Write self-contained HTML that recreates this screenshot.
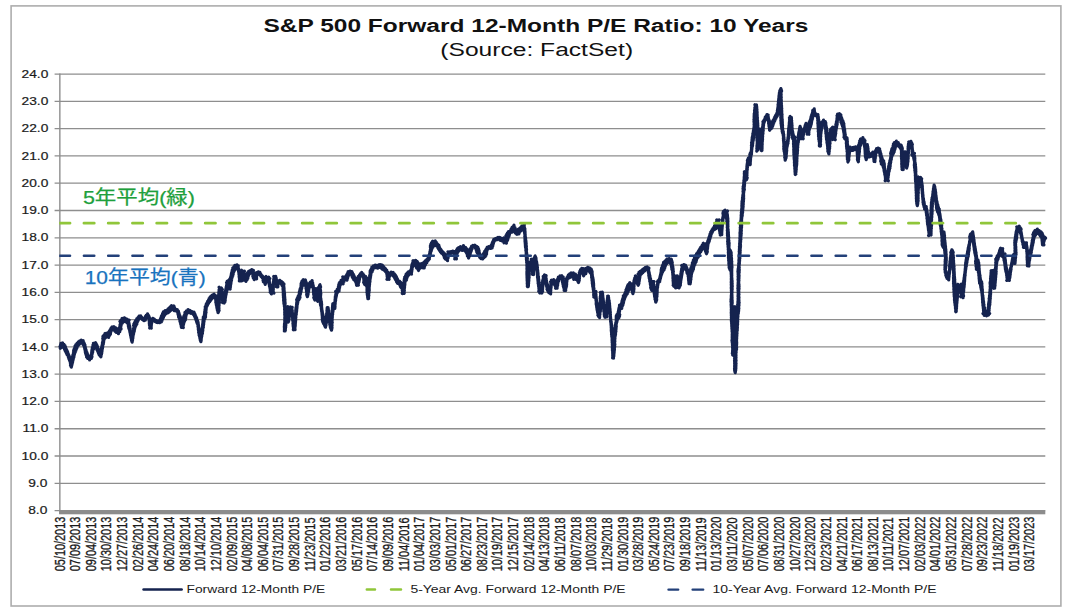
<!DOCTYPE html>
<html lang="en"><head><meta charset="utf-8"><title>S&amp;P 500 Forward 12-Month P/E Ratio: 10 Years</title>
<style>html,body{margin:0;padding:0;background:#fff;}body{width:1067px;height:611px;overflow:hidden;font-family:"Liberation Sans",sans-serif;}svg{display:block;}text{font-family:"Liberation Sans",sans-serif;}</style>
</head><body>
<svg width="1067" height="611" viewBox="0 0 1067 611">
<rect x="0" y="0" width="1067" height="611" fill="#ffffff"/>
<rect x="11.1" y="5.9" width="1049.8" height="600.1" fill="none" stroke="#adadad" stroke-width="1.6"/>
<g stroke="#8e8e8e" stroke-width="1.3" fill="none">
<path d="M54.6 510.58H1045.3"/>
<path d="M54.6 483.30H1045.3"/>
<path d="M54.6 456.02H1045.3"/>
<path d="M54.6 428.74H1045.3"/>
<path d="M54.6 401.46H1045.3"/>
<path d="M54.6 374.18H1045.3"/>
<path d="M54.6 346.90H1045.3"/>
<path d="M54.6 319.62H1045.3"/>
<path d="M54.6 292.34H1045.3"/>
<path d="M54.6 265.06H1045.3"/>
<path d="M54.6 237.78H1045.3"/>
<path d="M54.6 210.50H1045.3"/>
<path d="M54.6 183.22H1045.3"/>
<path d="M54.6 155.94H1045.3"/>
<path d="M54.6 128.66H1045.3"/>
<path d="M54.6 101.38H1045.3"/>
<path d="M54.6 74.10H1045.3"/>
<path d="M59.85 73.60V514" stroke-width="1.4"/>
</g>
<rect x="59.2" y="510.5" width="986.1" height="3.8" fill="#8c8c8c"/>
<g fill="#1a1a1a" stroke="#1a1a1a" stroke-width="0.2" font-size="11.4" text-anchor="end">
<text transform="translate(47.3 514.23) scale(1.205 1)">8.0</text>
<text transform="translate(47.3 486.95) scale(1.205 1)">9.0</text>
<text transform="translate(48.3 459.67) scale(1.205 1)">10.0</text>
<text transform="translate(48.3 432.39) scale(1.205 1)">11.0</text>
<text transform="translate(48.3 405.11) scale(1.205 1)">12.0</text>
<text transform="translate(48.3 377.83) scale(1.205 1)">13.0</text>
<text transform="translate(48.3 350.55) scale(1.205 1)">14.0</text>
<text transform="translate(48.3 323.27) scale(1.205 1)">15.0</text>
<text transform="translate(48.3 295.99) scale(1.205 1)">16.0</text>
<text transform="translate(48.3 268.71) scale(1.205 1)">17.0</text>
<text transform="translate(48.3 241.43) scale(1.205 1)">18.0</text>
<text transform="translate(48.3 214.15) scale(1.205 1)">19.0</text>
<text transform="translate(48.3 186.87) scale(1.205 1)">20.0</text>
<text transform="translate(48.3 159.59) scale(1.205 1)">21.0</text>
<text transform="translate(48.3 132.31) scale(1.205 1)">22.0</text>
<text transform="translate(48.3 105.03) scale(1.205 1)">23.0</text>
<text transform="translate(48.3 77.75) scale(1.205 1)">24.0</text>
</g>
<g fill="#1a1a1a" stroke="#1a1a1a" stroke-width="0.25" font-size="10.88">
<text transform="translate(59.60 571.2) rotate(-90) scale(1 1.38)" y="3.55">05/10/2013</text>
<text transform="translate(75.24 571.2) rotate(-90) scale(1 1.38)" y="3.55">07/09/2013</text>
<text transform="translate(90.88 571.2) rotate(-90) scale(1 1.38)" y="3.55">09/04/2013</text>
<text transform="translate(106.52 571.2) rotate(-90) scale(1 1.38)" y="3.55">10/30/2013</text>
<text transform="translate(122.16 571.2) rotate(-90) scale(1 1.38)" y="3.55">12/27/2013</text>
<text transform="translate(137.80 571.2) rotate(-90) scale(1 1.38)" y="3.55">02/26/2014</text>
<text transform="translate(153.44 571.2) rotate(-90) scale(1 1.38)" y="3.55">04/24/2014</text>
<text transform="translate(169.08 571.2) rotate(-90) scale(1 1.38)" y="3.55">06/20/2014</text>
<text transform="translate(184.72 571.2) rotate(-90) scale(1 1.38)" y="3.55">08/18/2014</text>
<text transform="translate(200.36 571.2) rotate(-90) scale(1 1.38)" y="3.55">10/14/2014</text>
<text transform="translate(216.00 571.2) rotate(-90) scale(1 1.38)" y="3.55">12/10/2014</text>
<text transform="translate(231.64 571.2) rotate(-90) scale(1 1.38)" y="3.55">02/09/2015</text>
<text transform="translate(247.28 571.2) rotate(-90) scale(1 1.38)" y="3.55">04/08/2015</text>
<text transform="translate(262.92 571.2) rotate(-90) scale(1 1.38)" y="3.55">06/04/2015</text>
<text transform="translate(278.56 571.2) rotate(-90) scale(1 1.38)" y="3.55">07/31/2015</text>
<text transform="translate(294.20 571.2) rotate(-90) scale(1 1.38)" y="3.55">09/28/2015</text>
<text transform="translate(309.84 571.2) rotate(-90) scale(1 1.38)" y="3.55">11/23/2015</text>
<text transform="translate(325.48 571.2) rotate(-90) scale(1 1.38)" y="3.55">01/22/2016</text>
<text transform="translate(341.12 571.2) rotate(-90) scale(1 1.38)" y="3.55">03/21/2016</text>
<text transform="translate(356.76 571.2) rotate(-90) scale(1 1.38)" y="3.55">05/17/2016</text>
<text transform="translate(372.40 571.2) rotate(-90) scale(1 1.38)" y="3.55">07/14/2016</text>
<text transform="translate(388.04 571.2) rotate(-90) scale(1 1.38)" y="3.55">09/09/2016</text>
<text transform="translate(403.68 571.2) rotate(-90) scale(1 1.38)" y="3.55">11/04/2016</text>
<text transform="translate(419.32 571.2) rotate(-90) scale(1 1.38)" y="3.55">01/04/2017</text>
<text transform="translate(434.96 571.2) rotate(-90) scale(1 1.38)" y="3.55">03/03/2017</text>
<text transform="translate(450.60 571.2) rotate(-90) scale(1 1.38)" y="3.55">05/01/2017</text>
<text transform="translate(466.24 571.2) rotate(-90) scale(1 1.38)" y="3.55">06/27/2017</text>
<text transform="translate(481.88 571.2) rotate(-90) scale(1 1.38)" y="3.55">08/23/2017</text>
<text transform="translate(497.52 571.2) rotate(-90) scale(1 1.38)" y="3.55">10/19/2017</text>
<text transform="translate(513.16 571.2) rotate(-90) scale(1 1.38)" y="3.55">12/15/2017</text>
<text transform="translate(528.80 571.2) rotate(-90) scale(1 1.38)" y="3.55">02/14/2018</text>
<text transform="translate(544.44 571.2) rotate(-90) scale(1 1.38)" y="3.55">04/13/2018</text>
<text transform="translate(560.08 571.2) rotate(-90) scale(1 1.38)" y="3.55">06/11/2018</text>
<text transform="translate(575.72 571.2) rotate(-90) scale(1 1.38)" y="3.55">08/07/2018</text>
<text transform="translate(591.36 571.2) rotate(-90) scale(1 1.38)" y="3.55">10/03/2018</text>
<text transform="translate(607.00 571.2) rotate(-90) scale(1 1.38)" y="3.55">11/29/2018</text>
<text transform="translate(622.64 571.2) rotate(-90) scale(1 1.38)" y="3.55">01/30/2019</text>
<text transform="translate(638.28 571.2) rotate(-90) scale(1 1.38)" y="3.55">03/28/2019</text>
<text transform="translate(653.92 571.2) rotate(-90) scale(1 1.38)" y="3.55">05/24/2019</text>
<text transform="translate(669.56 571.2) rotate(-90) scale(1 1.38)" y="3.55">07/23/2019</text>
<text transform="translate(685.20 571.2) rotate(-90) scale(1 1.38)" y="3.55">09/18/2019</text>
<text transform="translate(700.84 571.2) rotate(-90) scale(1 1.38)" y="3.55">11/13/2019</text>
<text transform="translate(716.48 571.2) rotate(-90) scale(1 1.38)" y="3.55">01/13/2020</text>
<text transform="translate(732.12 571.2) rotate(-90) scale(1 1.38)" y="3.55">03/11/2020</text>
<text transform="translate(747.76 571.2) rotate(-90) scale(1 1.38)" y="3.55">05/07/2020</text>
<text transform="translate(763.40 571.2) rotate(-90) scale(1 1.38)" y="3.55">07/06/2020</text>
<text transform="translate(779.04 571.2) rotate(-90) scale(1 1.38)" y="3.55">08/31/2020</text>
<text transform="translate(794.68 571.2) rotate(-90) scale(1 1.38)" y="3.55">10/27/2020</text>
<text transform="translate(810.32 571.2) rotate(-90) scale(1 1.38)" y="3.55">12/23/2020</text>
<text transform="translate(825.96 571.2) rotate(-90) scale(1 1.38)" y="3.55">02/23/2021</text>
<text transform="translate(841.60 571.2) rotate(-90) scale(1 1.38)" y="3.55">04/21/2021</text>
<text transform="translate(857.24 571.2) rotate(-90) scale(1 1.38)" y="3.55">06/17/2021</text>
<text transform="translate(872.88 571.2) rotate(-90) scale(1 1.38)" y="3.55">08/13/2021</text>
<text transform="translate(888.52 571.2) rotate(-90) scale(1 1.38)" y="3.55">10/11/2021</text>
<text transform="translate(904.16 571.2) rotate(-90) scale(1 1.38)" y="3.55">12/07/2021</text>
<text transform="translate(919.80 571.2) rotate(-90) scale(1 1.38)" y="3.55">02/03/2022</text>
<text transform="translate(935.44 571.2) rotate(-90) scale(1 1.38)" y="3.55">04/01/2022</text>
<text transform="translate(951.08 571.2) rotate(-90) scale(1 1.38)" y="3.55">05/31/2022</text>
<text transform="translate(966.72 571.2) rotate(-90) scale(1 1.38)" y="3.55">07/28/2022</text>
<text transform="translate(982.36 571.2) rotate(-90) scale(1 1.38)" y="3.55">09/23/2022</text>
<text transform="translate(998.00 571.2) rotate(-90) scale(1 1.38)" y="3.55">11/18/2022</text>
<text transform="translate(1013.64 571.2) rotate(-90) scale(1 1.38)" y="3.55">01/19/2023</text>
<text transform="translate(1029.28 571.2) rotate(-90) scale(1 1.38)" y="3.55">03/17/2023</text>
</g>
<text id="title" transform="translate(535.9 32.1) scale(1.332 1)" text-anchor="middle" font-size="18.4" font-weight="bold" fill="#111111">S&amp;P 500 Forward 12-Month P/E Ratio: 10 Years</text>
<text id="subtitle" transform="translate(536.7 56.1) scale(1.337 1)" text-anchor="middle" font-size="18.4" fill="#111111">(Source: FactSet)</text>
<path id="pe" d="M60.3 348.2 L61.1 347.6 L60.1 346.5 L61.4 346.1 L60.6 345.0 L61.8 344.6 L61.0 343.3 L61.9 343.5 L62.6 343.0 L62.5 344.4 L63.9 344.3 L63.4 345.6 L65.0 345.5 L63.8 346.8 L65.5 347.0 L64.2 348.2 L65.9 348.3 L64.6 349.6 L66.6 349.6 L65.3 350.9 L67.2 350.8 L65.9 352.2 L67.7 352.1 L66.5 353.5 L68.2 353.5 L67.3 354.8 L68.7 354.9 L68.1 355.9 L69.3 356.3 L68.5 357.4 L69.9 357.8 L69.0 358.9 L70.3 359.4 L69.6 360.4 L70.6 360.9 L70.1 361.8 L70.8 362.5 L70.4 363.3 L71.1 364.0 L70.6 364.8 L71.7 365.3 L71.3 367.1 L70.5 365.2 L71.9 364.8 L71.3 363.9 L72.2 363.3 L71.6 362.4 L72.6 361.9 L71.9 360.9 L72.9 360.3 L72.2 359.4 L73.3 358.9 L72.4 357.9 L73.8 357.4 L72.6 356.3 L74.1 355.9 L73.0 354.8 L74.4 354.4 L73.4 353.3 L74.9 352.9 L73.6 351.8 L75.5 351.5 L73.7 350.2 L76.0 350.2 L74.3 348.8 L76.5 348.9 L74.9 347.5 L77.0 347.6 L75.1 346.1 L77.5 346.3 L75.9 344.6 L78.2 345.3 L77.1 343.3 L79.3 344.4 L78.3 342.0 L80.4 343.4 L79.6 341.1 L81.4 342.3 L81.2 340.2 L81.9 341.6 L83.1 340.6 L81.8 342.4 L83.8 342.3 L82.7 343.6 L84.4 343.6 L83.3 344.9 L85.0 345.0 L84.0 346.1 L85.1 346.6 L84.5 347.6 L85.5 348.1 L84.9 349.1 L85.9 349.6 L85.2 350.6 L86.3 351.1 L85.4 352.2 L87.0 352.5 L85.7 353.7 L87.4 354.0 L86.3 355.2 L88.1 355.3 L86.6 357.0 L88.7 356.5 L87.7 358.4 L89.6 357.2 L89.6 359.9 L89.7 357.2 L91.4 358.3 L90.2 356.8 L92.0 356.8 L91.0 355.7 L91.9 355.0 L91.4 354.2 L92.2 353.6 L91.7 352.7 L92.6 352.1 L91.8 351.1 L92.9 350.6 L92.1 349.6 L93.5 349.1 L92.3 348.0 L94.1 347.7 L92.8 346.5 L94.2 346.1 L93.0 345.0 L94.7 344.6 L93.5 343.3 L94.7 343.9 L95.6 342.7 L94.1 344.7 L96.4 344.3 L94.9 345.9 L97.1 345.6 L95.5 347.2 L97.6 346.9 L96.3 348.4 L98.0 348.3 L96.9 349.7 L98.8 349.5 L97.6 350.9 L99.4 350.9 L98.2 352.2 L100.1 352.1 L98.6 353.5 L100.6 353.5 L99.2 354.8 L101.2 354.4 L100.9 356.9 L99.4 354.4 L101.5 354.4 L100.3 353.4 L101.8 352.8 L100.8 351.9 L101.9 351.3 L101.1 350.4 L102.1 349.8 L101.4 348.9 L102.4 348.3 L101.6 347.4 L102.7 346.8 L102.0 345.9 L102.8 345.3 L102.3 344.4 L103.3 343.8 L102.5 342.9 L103.5 342.3 L102.8 341.4 L103.7 340.8 L103.0 339.8 L104.1 339.3 L102.8 338.2 L105.0 338.1 L103.0 336.4 L105.9 337.2 L104.0 335.2 L106.5 335.8 L105.0 333.5 L106.3 335.6 L107.5 332.9 L106.0 336.4 L108.6 334.2 L108.6 337.5 L107.7 334.6 L109.9 335.2 L108.3 333.9 L110.5 333.9 L108.8 332.5 L110.7 332.5 L109.4 331.2 L111.0 331.1 L110.2 329.9 L111.7 329.9 L111.0 328.5 L112.7 328.8 L112.0 326.9 L113.0 328.1 L114.0 326.7 L113.3 329.0 L115.7 327.8 L114.3 330.3 L116.9 328.7 L115.2 331.4 L117.8 329.8 L116.3 332.3 L118.3 330.8 L118.4 333.6 L117.9 331.1 L119.8 331.6 L118.3 330.1 L120.1 330.3 L118.8 328.9 L121.1 329.0 L119.5 327.7 L120.7 327.2 L119.9 326.3 L121.1 325.7 L120.1 324.8 L121.3 324.2 L120.5 323.3 L122.4 323.0 L120.0 321.3 L122.9 322.0 L121.1 319.9 L123.7 320.9 L122.2 318.4 L123.8 320.2 L124.4 317.8 L123.9 320.7 L125.8 318.8 L125.2 321.6 L127.1 319.2 L126.5 322.1 L129.1 320.1 L126.9 322.5 L128.9 322.5 L127.8 323.5 L129.1 324.0 L128.3 325.0 L129.5 325.5 L128.5 326.5 L129.8 327.0 L128.8 328.0 L130.1 328.5 L129.3 329.5 L130.2 330.1 L129.7 331.0 L130.4 331.6 L130.0 332.5 L130.7 333.1 L130.3 334.0 L131.0 334.6 L130.6 335.5 L131.3 336.1 L130.9 337.0 L131.5 337.6 L131.2 338.5 L131.8 339.1 L131.5 340.0 L132.4 340.5 L132.1 342.1 L131.6 340.5 L132.5 340.0 L132.2 339.2 L132.8 338.5 L132.3 337.6 L133.0 337.0 L132.5 336.1 L133.2 335.5 L132.7 334.6 L133.5 334.0 L132.9 333.1 L133.8 332.5 L133.1 331.6 L134.2 331.0 L133.4 330.1 L134.5 329.5 L133.6 328.5 L134.8 328.0 L134.0 327.1 L135.5 326.6 L133.6 325.3 L136.0 325.3 L134.0 323.8 L136.8 324.2 L134.7 322.5 L137.1 322.7 L135.3 321.2 L137.7 321.5 L136.2 319.9 L138.3 320.2 L137.0 318.5 L139.0 318.9 L138.2 317.4 L139.8 317.6 L139.2 316.0 L140.1 316.4 L140.8 316.0 L140.6 317.3 L141.8 317.4 L141.4 318.6 L142.7 318.5 L142.5 319.7 L143.7 319.2 L143.8 320.6 L144.4 319.9 L145.3 320.1 L144.4 318.9 L145.8 318.7 L145.0 317.6 L146.4 317.5 L145.6 316.4 L147.0 316.4 L146.4 315.2 L147.5 315.3 L147.6 313.8 L147.5 315.3 L148.5 315.4 L147.9 316.4 L149.1 316.6 L148.2 317.7 L149.5 318.0 L148.9 318.9 L149.6 319.6 L149.1 320.4 L149.8 321.1 L149.3 321.9 L150.2 322.6 L149.4 323.4 L150.4 324.1 L149.5 325.0 L150.6 325.6 L149.9 326.4 L150.7 327.1 L149.7 328.1 L150.6 327.8 L151.3 328.1 L150.5 327.1 L151.2 326.4 L150.8 325.6 L151.4 324.9 L151.0 324.1 L151.6 323.4 L151.2 322.6 L151.9 321.9 L151.4 321.1 L152.2 320.4 L151.0 319.2 L152.5 319.6 L152.8 318.3 L152.7 320.3 L154.3 319.2 L154.0 321.0 L155.3 320.1 L155.2 321.6 L156.5 320.7 L156.5 322.3 L157.5 321.2 L158.0 322.6 L158.9 321.0 L159.8 322.6 L159.9 321.2 L161.4 321.9 L160.2 320.2 L162.1 320.3 L160.5 318.8 L162.6 318.9 L161.0 317.5 L163.4 317.7 L161.5 316.1 L163.8 316.4 L162.2 314.8 L164.7 315.2 L162.7 313.4 L165.5 314.0 L163.5 311.8 L165.6 313.3 L165.2 310.6 L166.6 313.4 L166.7 311.0 L168.3 312.6 L167.2 310.2 L169.5 311.4 L168.1 309.0 L170.6 310.5 L169.2 308.2 L171.6 309.4 L170.2 307.0 L172.7 308.2 L171.5 305.6 L172.7 307.2 L173.8 305.9 L172.4 307.8 L174.5 307.5 L173.3 309.0 L175.0 308.7 L174.1 310.6 L175.7 309.4 L176.0 311.0 L177.3 309.7 L177.2 311.0 L178.4 311.1 L177.7 312.2 L178.8 312.7 L178.0 313.8 L179.3 314.2 L178.4 315.3 L179.9 315.7 L178.6 316.9 L180.4 317.2 L179.2 318.3 L180.7 318.7 L179.8 319.7 L181.1 320.2 L180.0 321.3 L181.3 321.8 L180.4 322.8 L181.6 323.3 L180.8 324.2 L181.9 324.8 L181.2 325.8 L182.2 326.3 L181.5 327.4 L182.2 327.1 L183.3 327.6 L182.0 326.3 L183.2 325.7 L182.4 324.8 L183.5 324.2 L182.5 323.2 L183.9 322.8 L182.7 321.7 L184.5 321.3 L183.0 320.1 L185.4 320.0 L183.2 318.6 L185.7 318.4 L183.6 317.1 L185.8 316.8 L184.1 315.6 L186.2 315.3 L184.8 314.2 L186.6 314.0 L185.0 312.3 L187.2 312.8 L186.4 311.0 L188.1 312.0 L188.0 309.5 L188.6 311.8 L189.9 310.4 L189.4 312.7 L190.9 311.1 L190.9 313.3 L192.2 311.7 L192.4 313.4 L194.0 312.2 L193.1 314.1 L194.8 313.8 L193.8 315.1 L195.3 315.1 L194.6 316.3 L195.9 316.5 L195.2 317.6 L196.6 317.9 L195.7 319.0 L197.0 319.5 L196.2 320.5 L197.5 321.0 L196.7 322.0 L198.1 322.4 L197.2 323.5 L198.3 324.1 L197.9 324.9 L198.5 325.6 L198.0 326.4 L198.7 327.1 L198.2 327.9 L199.0 328.6 L198.4 329.5 L199.3 330.1 L198.6 331.0 L199.4 331.6 L198.7 332.5 L199.7 333.1 L199.0 334.0 L199.9 334.6 L199.2 335.5 L200.1 336.0 L199.6 336.8 L200.3 337.4 L199.9 338.2 L200.5 338.8 L200.2 339.6 L201.2 340.0 L200.9 341.6 L200.3 340.1 L201.2 339.5 L200.8 338.6 L201.4 337.9 L201.1 337.1 L201.7 336.4 L201.3 335.5 L202.0 334.8 L201.5 333.9 L202.4 333.3 L201.7 332.4 L202.6 331.7 L201.9 330.9 L202.8 330.2 L202.1 329.4 L202.9 328.7 L202.3 327.8 L203.3 327.2 L202.5 326.3 L203.4 325.7 L202.7 324.8 L203.6 324.2 L202.8 323.3 L203.8 322.7 L203.0 321.8 L204.0 321.2 L203.1 320.3 L204.2 319.7 L203.3 318.7 L205.0 318.4 L203.3 317.1 L205.6 317.0 L204.2 315.8 L205.5 315.3 L204.5 314.4 L205.7 313.8 L204.6 312.9 L206.0 312.3 L204.8 311.4 L206.0 310.7 L205.0 309.9 L206.1 309.2 L205.3 308.3 L206.3 307.8 L205.3 306.8 L206.7 306.5 L206.0 305.4 L207.4 305.3 L206.4 304.1 L208.2 304.0 L207.1 302.7 L208.7 302.8 L207.7 301.3 L209.7 301.7 L208.6 300.0 L210.6 300.4 L209.2 298.6 L211.5 299.2 L210.2 297.2 L212.5 298.2 L211.1 296.0 L213.5 297.3 L212.3 295.1 L214.0 296.3 L214.0 294.1 L214.3 295.9 L215.5 295.6 L215.1 296.6 L216.0 297.0 L215.5 297.9 L216.2 298.6 L215.7 299.4 L216.4 300.1 L215.8 301.0 L216.8 301.6 L215.9 302.5 L217.0 303.1 L216.2 304.0 L217.1 304.6 L216.5 305.5 L217.3 306.1 L216.8 307.0 L217.7 307.6 L217.1 308.5 L218.0 309.1 L217.4 310.0 L219.1 310.3 L218.1 312.6 L217.7 310.6 L218.7 310.0 L217.7 309.1 L218.9 308.5 L217.7 307.6 L218.9 307.0 L217.9 306.1 L219.0 305.4 L218.0 304.6 L219.1 303.9 L218.0 303.1 L219.4 302.5 L218.0 301.6 L219.5 300.9 L218.3 300.1 L219.5 299.4 L218.2 298.6 L219.7 297.9 L218.5 297.1 L219.8 296.4 L218.6 295.6 L219.9 294.9 L218.7 294.1 L219.9 293.4 L218.9 292.6 L220.2 291.9 L219.0 291.1 L220.2 290.4 L219.2 289.6 L220.7 289.2 L219.1 287.2 L220.4 289.4 L221.4 288.0 L221.0 289.3 L222.4 289.3 L221.5 290.4 L222.1 291.1 L221.7 291.9 L222.3 292.6 L222.0 293.4 L222.5 294.1 L222.3 294.9 L222.8 295.6 L222.3 296.4 L223.1 297.1 L222.3 297.9 L223.5 298.6 L222.4 299.5 L223.6 300.1 L222.7 300.9 L223.7 301.6 L222.5 302.6 L223.7 302.4 L224.2 303.0 L223.0 301.6 L225.0 301.7 L223.6 300.5 L225.2 300.3 L224.3 299.3 L225.3 298.7 L224.4 297.8 L225.5 297.2 L224.8 296.3 L225.8 295.7 L224.9 294.8 L226.1 294.2 L225.1 293.3 L226.4 292.7 L225.3 291.8 L226.7 291.2 L225.6 290.3 L227.0 289.7 L226.0 288.8 L227.0 288.2 L226.2 287.3 L227.2 286.7 L226.6 285.8 L227.4 285.1 L226.8 284.3 L227.7 283.7 L226.6 282.6 L228.4 282.4 L227.3 281.2 L228.8 281.8 L229.3 279.7 L227.8 281.7 L229.3 282.0 L228.5 282.9 L229.5 283.6 L228.7 284.4 L229.6 285.1 L228.8 285.9 L229.6 286.6 L229.0 287.4 L229.8 288.1 L229.0 288.9 L229.5 288.6 L230.1 289.0 L229.2 288.0 L230.3 287.4 L229.4 286.5 L230.5 285.9 L229.4 285.0 L230.7 284.4 L229.7 283.5 L231.0 282.9 L229.8 282.0 L231.2 281.4 L230.1 280.5 L231.5 280.0 L230.0 278.8 L231.8 278.5 L230.6 277.4 L232.2 277.0 L231.1 275.9 L232.8 275.5 L231.3 274.3 L233.2 274.1 L231.7 272.8 L233.5 272.5 L232.0 271.3 L234.2 271.1 L232.4 269.7 L234.8 269.9 L232.9 268.0 L235.5 268.8 L233.9 266.7 L236.4 267.8 L234.9 265.3 L237.1 267.1 L236.9 264.8 L236.9 266.2 L238.3 265.9 L237.3 267.1 L238.2 267.7 L237.7 268.6 L238.7 269.2 L238.2 270.1 L238.9 270.7 L238.6 271.6 L239.2 272.3 L238.9 273.1 L239.5 273.8 L239.0 274.6 L239.8 275.3 L239.2 276.1 L240.2 276.7 L239.3 277.6 L240.3 278.3 L239.5 279.1 L240.6 279.8 L239.4 280.9 L240.4 280.5 L241.4 280.9 L240.3 279.8 L241.0 279.1 L240.6 278.3 L241.4 277.6 L240.8 276.7 L241.7 276.1 L241.1 275.2 L242.0 274.6 L241.0 273.6 L243.3 273.5 L240.7 271.9 L243.7 272.5 L241.6 270.3 L242.3 272.0 L244.4 271.1 L242.6 272.4 L243.9 273.0 L242.7 273.9 L244.2 274.4 L243.1 275.4 L244.3 276.0 L243.2 276.9 L244.5 277.5 L243.4 278.4 L244.8 279.0 L242.7 280.5 L245.0 279.1 L245.9 281.4 L244.0 278.7 L247.1 279.8 L244.7 277.6 L247.8 278.4 L245.3 276.5 L248.0 276.9 L245.8 275.2 L248.6 275.6 L246.6 273.9 L248.8 274.4 L247.7 272.6 L249.8 273.5 L248.8 271.3 L250.7 272.1 L250.3 270.6 L251.9 271.7 L251.7 269.6 L252.0 270.9 L253.4 270.3 L252.3 271.7 L253.4 272.2 L252.6 273.2 L253.7 273.7 L252.9 274.7 L254.1 275.2 L252.9 276.3 L255.0 276.4 L253.3 277.9 L255.5 277.4 L254.3 279.5 L255.0 277.8 L256.6 278.9 L255.2 277.4 L256.6 277.0 L255.6 275.9 L256.9 275.4 L256.0 274.4 L257.5 274.2 L256.5 272.6 L258.1 273.4 L258.4 271.8 L259.0 272.9 L259.9 272.5 L259.4 273.9 L260.8 273.9 L260.1 275.2 L261.5 275.2 L261.0 276.4 L262.5 276.2 L262.2 277.6 L263.6 277.4 L263.1 278.7 L264.8 278.7 L263.1 280.2 L265.4 280.3 L263.4 281.8 L266.1 281.4 L265.2 284.4 L264.3 281.4 L267.0 281.7 L264.7 280.3 L267.3 280.2 L264.9 278.7 L267.7 279.0 L265.9 276.5 L267.2 279.3 L268.6 277.1 L267.2 279.0 L269.9 278.5 L267.9 280.0 L269.3 280.4 L268.5 281.4 L269.5 282.0 L268.9 282.9 L269.7 283.5 L269.2 284.4 L270.1 285.0 L269.5 285.9 L270.5 286.5 L269.9 287.4 L270.9 288.0 L270.1 289.0 L271.2 289.5 L270.3 290.5 L272.1 290.8 L270.2 292.3 L272.7 291.7 L271.4 293.9 L271.9 292.4 L273.9 293.1 L272.1 291.8 L273.2 291.2 L272.2 290.3 L273.3 289.7 L272.5 288.8 L273.3 288.1 L272.8 287.3 L273.4 286.6 L273.0 285.8 L273.5 285.1 L273.1 284.3 L273.6 283.6 L273.3 282.8 L273.9 282.1 L273.5 281.3 L274.1 280.6 L273.7 279.8 L274.5 279.1 L273.9 278.3 L274.8 277.6 L273.8 276.5 L274.7 277.0 L275.7 276.4 L274.5 277.8 L276.2 278.1 L274.9 279.3 L276.4 279.7 L275.6 280.7 L276.5 281.3 L276.0 282.1 L276.7 282.8 L276.3 283.6 L277.0 284.3 L276.6 285.1 L277.2 285.8 L276.5 286.8 L277.2 286.7 L277.9 286.8 L277.3 285.8 L277.9 285.1 L277.7 284.3 L278.3 283.6 L277.9 282.8 L278.7 282.1 L277.9 280.9 L279.1 281.5 L279.6 280.3 L279.2 282.3 L280.9 281.2 L280.1 283.3 L281.8 281.8 L281.1 283.6 L282.9 282.7 L281.7 284.5 L284.0 284.0 L282.1 285.5 L283.8 285.8 L283.0 286.6 L283.9 287.3 L283.0 288.1 L284.0 288.8 L283.1 289.6 L284.1 290.3 L283.2 291.1 L284.2 291.8 L283.3 292.7 L284.5 293.3 L283.3 294.2 L284.5 294.8 L283.4 295.7 L284.6 296.3 L283.5 297.2 L284.7 297.9 L283.7 298.7 L284.9 299.4 L283.6 300.2 L284.9 300.9 L283.8 301.7 L285.0 302.4 L283.9 303.2 L285.1 303.9 L284.2 304.7 L284.9 305.4 L284.4 306.2 L284.9 306.9 L284.6 307.7 L285.0 308.5 L284.6 309.3 L285.1 310.1 L284.7 310.9 L285.2 311.6 L284.7 312.5 L285.2 313.2 L284.7 314.1 L285.3 314.8 L284.8 315.6 L285.4 316.4 L284.8 317.2 L285.5 318.0 L284.8 318.8 L285.5 319.6 L284.8 320.4 L285.6 321.2 L284.8 322.0 L285.6 322.7 L284.6 323.5 L285.7 324.3 L284.5 325.0 L285.7 325.8 L284.4 326.5 L285.6 327.3 L284.4 328.0 L285.4 328.8 L284.5 329.5 L285.3 330.3 L284.4 331.0 L284.8 331.0 L285.1 331.0 L284.8 330.2 L285.3 329.5 L284.9 328.7 L285.4 328.0 L285.0 327.2 L285.6 326.5 L285.2 325.7 L285.8 325.0 L285.4 324.2 L286.0 323.5 L285.5 322.7 L286.1 322.0 L285.6 321.2 L286.3 320.5 L285.8 319.7 L286.5 319.0 L286.0 318.2 L286.7 317.5 L286.1 316.7 L286.8 316.0 L286.3 315.2 L287.0 314.5 L286.5 313.7 L287.1 313.0 L286.8 312.2 L287.3 311.5 L287.0 310.7 L287.4 309.9 L287.1 309.2 L287.8 308.5 L287.8 306.6 L287.2 308.5 L288.1 309.2 L287.2 310.1 L288.3 310.8 L287.3 311.7 L288.4 312.4 L287.5 313.3 L288.5 314.0 L287.6 314.9 L288.5 315.6 L287.7 316.5 L288.6 317.2 L287.9 318.1 L288.8 318.8 L288.0 319.7 L288.8 320.4 L288.3 322.0 L288.3 320.4 L289.0 319.7 L288.5 318.9 L289.1 318.2 L288.7 317.4 L289.2 316.7 L288.9 315.9 L289.4 315.2 L289.0 314.4 L289.5 313.7 L289.1 312.9 L289.6 312.2 L289.3 311.4 L289.9 310.7 L289.3 309.9 L290.6 309.6 L289.8 308.6 L291.2 308.4 L290.2 307.0 L290.8 307.8 L292.2 307.3 L291.0 308.5 L291.9 309.1 L291.0 310.0 L292.2 310.6 L291.2 311.5 L292.3 312.1 L291.6 313.0 L292.5 313.6 L291.8 314.5 L292.7 315.1 L292.1 316.0 L292.7 316.7 L292.4 317.5 L292.9 318.2 L292.6 319.0 L293.1 319.7 L292.7 320.5 L293.4 321.2 L293.0 322.0 L293.6 322.7 L293.0 323.5 L294.0 324.2 L293.1 325.1 L294.3 325.7 L293.3 326.6 L294.5 327.2 L293.5 328.1 L294.7 328.7 L293.4 329.7 L294.4 328.8 L295.0 329.6 L294.1 328.7 L295.0 328.0 L294.2 327.2 L295.1 326.5 L294.3 325.7 L295.3 325.0 L294.4 324.2 L295.3 323.5 L294.5 322.7 L295.5 322.0 L294.6 321.2 L295.6 320.5 L294.8 319.7 L295.7 319.0 L294.9 318.2 L295.8 317.5 L295.1 316.7 L295.9 316.0 L295.3 315.2 L296.2 314.5 L295.4 313.6 L296.3 313.0 L295.7 312.1 L296.5 311.5 L295.8 310.6 L296.7 310.0 L295.9 309.1 L296.8 308.5 L296.1 307.6 L297.0 307.0 L296.4 306.1 L297.1 305.5 L296.6 304.6 L297.4 304.0 L296.7 303.1 L297.7 302.5 L297.0 301.6 L297.8 301.0 L296.7 299.9 L298.8 299.9 L297.2 298.5 L299.4 298.8 L297.8 297.3 L300.0 297.5 L298.3 296.1 L299.9 295.7 L299.0 294.8 L300.3 294.2 L299.3 293.2 L300.6 292.7 L299.5 291.7 L301.1 291.3 L299.9 290.2 L301.3 289.7 L300.3 288.7 L301.7 288.2 L300.9 287.2 L302.0 286.7 L301.1 285.7 L303.0 285.4 L301.1 284.0 L303.4 284.1 L301.5 282.5 L304.1 282.9 L302.1 281.1 L304.8 281.7 L303.2 279.7 L304.4 280.8 L305.3 279.9 L304.2 281.3 L305.8 281.4 L304.6 282.6 L306.3 282.7 L305.4 283.7 L306.2 284.3 L305.7 285.1 L306.4 285.8 L305.9 286.6 L306.6 287.3 L306.0 288.1 L306.8 288.8 L306.3 289.6 L307.0 290.3 L306.5 291.1 L307.2 291.8 L306.7 292.7 L307.4 293.3 L306.8 294.2 L307.9 294.7 L307.4 296.6 L306.7 294.6 L308.0 294.2 L307.3 293.3 L308.2 292.7 L307.6 291.8 L308.6 291.2 L307.8 290.3 L308.8 289.7 L308.1 288.8 L309.0 288.2 L308.0 287.2 L310.2 287.0 L308.1 285.6 L310.5 285.9 L308.6 284.2 L310.9 284.7 L309.6 283.2 L311.5 283.5 L310.4 282.0 L311.9 282.5 L312.1 280.6 L311.4 282.4 L312.6 282.8 L312.0 283.7 L312.9 284.3 L312.4 285.2 L313.2 285.8 L312.7 286.7 L313.5 287.3 L313.1 288.1 L313.7 288.8 L313.3 289.6 L314.0 290.3 L313.4 291.2 L314.3 291.8 L313.6 292.7 L314.6 293.3 L313.7 294.2 L314.9 294.8 L314.0 295.7 L315.2 296.3 L314.1 297.2 L315.9 297.6 L314.9 300.0 L313.8 297.6 L315.6 297.2 L314.7 296.3 L315.8 295.7 L315.0 294.8 L316.0 294.2 L315.2 293.3 L316.2 292.7 L315.3 291.8 L316.4 291.2 L315.5 290.3 L316.7 289.7 L315.6 288.7 L316.4 289.3 L317.0 288.7 L316.1 289.7 L317.1 290.3 L316.3 291.2 L317.2 291.8 L316.5 292.7 L317.3 293.3 L316.6 294.2 L317.5 294.8 L316.7 295.7 L317.6 296.3 L316.8 297.2 L317.8 297.8 L317.0 298.7 L317.9 299.3 L317.6 301.3 L317.2 299.3 L318.1 298.7 L317.4 297.8 L318.3 297.2 L317.6 296.3 L318.5 295.7 L317.7 294.8 L318.6 294.2 L317.9 293.3 L318.9 292.7 L318.1 291.8 L318.9 291.2 L318.3 290.3 L319.3 289.7 L318.4 288.7 L319.8 288.2 L318.8 287.2 L320.6 287.0 L319.9 284.7 L319.3 286.7 L320.3 287.4 L319.3 288.3 L320.3 289.0 L319.4 289.9 L320.5 290.6 L319.5 291.4 L320.6 292.2 L319.5 293.0 L320.8 293.8 L319.8 294.6 L320.6 295.4 L320.0 296.2 L320.6 297.0 L320.2 297.8 L320.8 298.5 L320.2 299.4 L321.0 300.1 L320.2 300.9 L321.3 301.6 L320.4 302.5 L321.5 303.1 L320.4 304.0 L321.6 304.6 L320.7 305.5 L321.6 306.1 L321.2 306.9 L321.7 307.6 L321.3 308.5 L321.9 309.1 L321.5 310.0 L322.1 310.6 L321.7 311.5 L322.4 312.1 L321.9 313.0 L322.6 313.6 L322.1 314.5 L322.9 315.1 L322.2 316.0 L323.2 316.6 L322.4 317.6 L323.9 318.0 L322.3 319.2 L324.4 319.5 L322.5 320.8 L325.2 320.9 L323.0 322.3 L325.4 322.4 L323.7 323.7 L325.3 324.1 L324.5 325.1 L325.9 325.4 L325.4 327.2 L324.6 325.4 L326.0 325.0 L325.4 324.2 L326.2 323.5 L325.5 322.7 L326.6 322.0 L325.8 321.2 L326.7 320.5 L325.9 319.6 L326.9 319.0 L326.3 318.2 L327.1 317.5 L326.4 316.7 L327.2 316.0 L326.5 315.2 L327.3 314.5 L326.7 313.7 L327.4 313.0 L326.9 312.2 L327.6 311.5 L327.0 310.6 L327.8 310.0 L327.1 309.1 L327.9 308.5 L327.3 307.6 L327.7 307.6 L328.1 307.6 L327.5 308.5 L328.3 309.1 L327.4 310.0 L328.5 310.6 L327.6 311.5 L328.7 312.1 L327.7 313.0 L329.0 313.6 L327.8 314.5 L329.2 315.1 L327.8 316.0 L329.1 316.7 L328.2 317.5 L329.4 318.1 L327.7 319.2 L330.5 318.9 L328.1 320.6 L331.1 320.2 L329.2 321.4 L330.6 321.9 L329.7 322.8 L330.8 323.4 L329.8 324.3 L331.1 324.9 L330.1 325.8 L331.4 326.4 L330.4 327.3 L332.0 327.7 L331.5 330.1 L330.6 327.8 L331.9 327.2 L330.8 326.3 L332.0 325.6 L330.9 324.7 L332.0 324.0 L331.0 323.1 L332.2 322.4 L331.2 321.5 L332.1 320.8 L331.4 319.9 L332.2 319.2 L331.7 318.4 L332.3 317.6 L331.8 316.8 L332.4 316.0 L331.9 315.2 L332.6 314.5 L332.0 313.7 L332.7 313.0 L332.1 312.1 L332.9 311.5 L332.2 310.6 L333.1 310.0 L332.4 309.1 L333.4 308.5 L332.5 307.6 L333.4 307.0 L332.6 306.1 L334.1 305.7 L332.8 303.8 L332.7 305.9 L334.5 305.6 L333.3 306.7 L335.0 306.4 L334.8 308.5 L333.8 306.7 L334.9 306.2 L334.5 305.4 L335.1 304.7 L334.6 303.9 L335.2 303.2 L334.7 302.4 L335.4 301.7 L335.0 300.9 L335.6 300.2 L335.1 299.4 L335.8 298.7 L335.3 297.8 L336.0 297.2 L335.4 296.3 L336.4 295.7 L335.8 294.8 L336.6 294.2 L336.0 293.3 L337.3 292.9 L335.7 291.4 L337.9 291.9 L336.9 290.3 L339.1 290.8 L337.4 289.2 L339.2 289.0 L338.3 288.0 L339.6 287.5 L338.5 286.4 L339.8 286.0 L338.8 284.9 L340.5 284.6 L339.2 283.4 L341.2 283.6 L339.9 282.2 L341.6 282.7 L341.1 280.3 L341.2 282.8 L342.8 281.1 L343.1 283.8 L342.0 281.5 L344.0 281.5 L342.3 280.3 L344.4 280.1 L342.8 278.9 L344.6 278.5 L342.8 276.9 L344.6 278.1 L345.4 276.6 L343.6 278.6 L346.2 278.1 L344.6 280.0 L345.7 278.7 L347.0 280.0 L345.3 278.2 L347.6 278.4 L345.5 276.8 L347.9 277.0 L346.2 275.7 L348.4 275.8 L346.9 274.5 L348.6 274.4 L347.5 273.3 L349.1 273.4 L348.2 271.7 L349.9 272.8 L350.2 271.0 L350.6 272.5 L351.9 271.6 L350.8 273.2 L352.6 273.2 L351.2 274.6 L353.3 274.4 L351.9 275.8 L354.0 275.7 L352.4 277.2 L354.4 277.0 L353.1 278.4 L355.0 278.2 L353.8 279.7 L354.9 278.9 L355.6 279.7 L354.0 278.3 L354.8 279.0 L356.1 278.3 L354.8 279.7 L356.6 279.7 L355.2 281.0 L356.9 281.1 L355.8 282.2 L357.4 282.5 L356.3 283.7 L358.1 284.0 L356.7 285.4 L357.7 284.9 L358.4 285.2 L357.7 284.2 L358.4 283.5 L357.9 282.7 L358.8 282.1 L358.1 281.2 L359.2 280.6 L358.2 279.6 L359.5 279.1 L358.4 278.1 L359.8 277.7 L358.4 276.4 L360.4 276.5 L359.6 275.2 L360.9 275.1 L360.4 273.8 L361.8 274.1 L361.7 272.4 L361.8 274.0 L363.0 273.8 L362.3 275.0 L363.9 275.0 L362.9 276.1 L363.8 276.7 L363.4 277.5 L364.1 278.2 L363.7 279.0 L364.3 279.7 L363.9 280.5 L364.6 281.2 L364.1 282.1 L365.5 282.4 L364.8 284.7 L363.7 282.3 L365.6 282.1 L364.8 281.1 L366.0 280.6 L365.1 279.6 L366.8 279.4 L365.8 276.7 L364.7 279.3 L366.5 279.7 L365.6 280.5 L366.8 281.1 L365.8 282.1 L367.0 282.7 L366.1 283.5 L367.1 284.2 L366.3 285.0 L367.2 285.7 L366.7 286.5 L367.3 287.2 L367.0 288.0 L367.4 288.7 L367.0 289.5 L367.7 290.2 L367.0 291.0 L367.9 291.7 L367.0 292.6 L368.1 293.2 L367.3 294.1 L368.2 294.7 L367.5 295.6 L368.4 296.2 L367.7 297.1 L368.4 297.8 L367.9 298.6 L368.1 298.7 L368.5 298.5 L368.1 297.7 L368.6 296.9 L368.2 296.1 L368.8 295.4 L368.2 294.6 L368.8 293.8 L368.3 293.0 L369.0 292.2 L368.3 291.4 L369.2 290.7 L368.4 289.8 L369.2 289.1 L368.5 288.3 L369.2 287.5 L368.7 286.7 L369.4 286.0 L368.7 285.1 L369.5 284.4 L368.8 283.6 L369.7 282.8 L368.7 282.0 L369.9 281.3 L368.9 280.4 L370.0 279.8 L369.2 278.9 L370.2 278.3 L369.4 277.4 L370.5 276.8 L369.7 275.9 L370.7 275.3 L370.0 274.4 L370.9 273.8 L370.2 272.8 L371.5 272.4 L370.2 271.2 L372.3 271.3 L370.8 269.9 L372.8 269.9 L371.5 268.6 L373.4 268.6 L372.0 267.0 L373.6 267.6 L373.4 265.9 L374.8 267.6 L375.3 265.1 L375.9 267.6 L377.0 265.4 L377.7 268.2 L377.8 265.6 L379.4 267.2 L378.9 264.7 L379.8 266.7 L380.8 264.7 L380.2 267.3 L382.4 265.3 L381.2 268.0 L383.5 266.5 L382.2 269.1 L384.6 267.8 L383.6 269.9 L385.7 269.0 L384.9 270.9 L386.8 270.3 L385.8 271.9 L387.4 272.0 L386.6 273.0 L387.3 273.7 L386.9 274.5 L387.6 275.1 L387.1 276.0 L388.0 276.6 L387.4 277.5 L388.2 278.1 L387.0 279.4 L388.1 278.8 L389.1 279.3 L388.0 278.1 L389.1 277.6 L388.4 276.6 L389.6 276.1 L388.7 275.1 L390.2 274.9 L388.9 273.1 L390.9 274.3 L391.0 272.0 L391.6 274.1 L393.1 272.5 L392.0 275.1 L394.4 273.9 L393.2 275.9 L395.4 275.2 L394.0 277.0 L396.3 276.5 L394.8 278.2 L396.8 277.9 L395.4 279.5 L397.5 279.2 L396.2 280.5 L398.0 280.5 L396.6 281.8 L398.4 281.5 L397.6 283.4 L398.3 281.8 L399.0 283.1 L399.6 281.3 L399.2 283.1 L401.0 282.6 L399.6 284.2 L402.0 283.6 L400.0 285.5 L402.7 284.9 L400.5 286.7 L403.3 286.2 L401.1 287.7 L403.2 287.8 L402.1 288.8 L403.2 289.4 L402.3 290.3 L403.4 290.9 L402.6 291.9 L403.8 292.4 L402.3 293.6 L403.5 292.8 L404.1 293.4 L403.1 292.5 L404.2 291.8 L403.3 291.0 L404.3 290.3 L403.5 289.5 L404.4 288.8 L403.6 288.0 L404.5 287.3 L403.8 286.5 L404.7 285.8 L403.9 284.9 L404.8 284.3 L404.0 283.4 L404.9 282.8 L404.2 281.9 L405.1 281.3 L404.2 280.3 L406.4 280.1 L404.5 278.6 L406.8 278.6 L404.8 277.0 L407.3 277.2 L405.7 275.6 L407.9 276.0 L406.2 274.2 L408.7 274.8 L407.2 273.0 L409.2 273.6 L408.3 271.9 L409.7 272.5 L410.1 270.9 L409.7 272.4 L410.6 272.9 L410.0 273.9 L410.7 273.8 L411.5 274.0 L410.6 272.9 L411.5 272.3 L410.9 271.4 L411.8 270.8 L411.1 269.9 L412.0 269.3 L411.4 268.4 L412.3 267.7 L411.7 266.8 L412.7 266.3 L411.9 265.3 L413.3 265.1 L412.3 263.9 L414.0 263.8 L412.8 262.5 L415.1 262.7 L413.1 260.6 L414.6 262.3 L415.7 260.4 L413.9 263.2 L417.3 261.6 L414.7 264.3 L418.1 263.2 L415.7 265.2 L418.6 265.0 L416.0 266.7 L419.2 266.4 L416.7 268.1 L419.5 267.6 L418.5 270.5 L417.5 267.6 L420.2 268.1 L418.4 266.6 L420.4 266.5 L418.9 264.9 L420.6 265.2 L420.3 263.8 L421.3 264.9 L422.3 263.4 L421.7 265.0 L422.9 265.3 L422.2 266.3 L423.4 266.8 L422.9 267.9 L423.5 267.9 L424.2 268.0 L423.4 266.8 L424.6 266.3 L423.8 265.3 L425.4 264.9 L424.0 263.6 L425.8 263.6 L424.3 261.9 L426.8 262.7 L425.4 260.7 L427.4 261.3 L426.7 259.7 L428.4 260.3 L427.7 258.7 L429.4 259.0 L428.4 257.7 L429.5 257.2 L428.9 256.3 L429.9 255.7 L429.3 254.8 L430.3 254.2 L429.7 253.3 L430.6 252.7 L430.0 251.8 L431.1 251.2 L430.3 250.2 L431.5 249.7 L430.7 248.7 L432.2 248.3 L430.4 247.0 L433.0 247.0 L430.5 245.4 L433.7 245.9 L431.0 244.0 L434.2 244.5 L431.6 242.7 L434.7 243.2 L432.7 241.1 L434.2 242.9 L435.2 241.0 L433.4 243.2 L436.3 242.5 L434.3 244.5 L436.2 243.5 L435.8 245.6 L437.5 244.0 L437.0 246.0 L438.8 245.2 L437.4 246.7 L439.3 246.7 L438.0 247.9 L439.7 247.9 L438.7 249.2 L440.5 249.0 L439.6 250.5 L441.3 250.2 L440.5 251.8 L442.2 251.3 L441.4 253.1 L443.3 252.4 L442.7 254.0 L444.5 253.6 L443.6 255.1 L445.0 255.0 L444.1 256.3 L445.8 256.1 L444.4 257.7 L446.5 257.2 L445.3 259.0 L447.4 257.6 L447.5 260.6 L445.9 257.9 L448.1 258.0 L447.1 257.0 L448.3 256.5 L447.5 255.5 L448.7 255.0 L447.8 254.0 L449.5 253.9 L448.0 251.9 L449.6 253.5 L449.9 251.8 L450.7 253.6 L451.1 251.7 L452.2 252.9 L452.8 251.1 L453.2 252.8 L454.4 251.8 L453.7 253.0 L455.2 253.1 L454.3 254.2 L455.0 254.8 L454.6 255.7 L455.3 256.3 L454.9 257.2 L455.6 257.8 L454.8 258.9 L455.5 258.6 L456.4 258.9 L455.5 257.9 L456.2 257.2 L455.7 256.3 L456.5 255.7 L455.9 254.8 L456.7 254.2 L456.1 253.3 L457.5 252.9 L455.6 251.4 L458.0 251.7 L456.7 250.1 L458.8 250.7 L457.4 248.6 L459.8 249.9 L458.6 247.6 L460.2 249.7 L460.4 246.6 L460.5 249.9 L461.5 247.3 L462.2 250.4 L461.7 247.2 L463.4 249.0 L463.5 245.7 L463.2 249.3 L465.6 247.4 L464.2 249.8 L466.7 248.9 L464.9 250.9 L467.2 250.3 L465.8 251.8 L467.6 251.7 L466.5 252.9 L467.8 253.2 L467.2 254.3 L468.4 254.7 L467.5 255.9 L469.1 255.9 L468.6 258.0 L468.1 256.0 L469.8 255.8 L468.3 254.7 L470.2 254.3 L468.7 253.2 L470.4 252.8 L469.0 251.6 L471.1 251.4 L469.3 250.1 L471.5 250.1 L470.1 248.8 L472.1 248.8 L471.0 247.6 L472.4 247.4 L471.7 246.2 L472.6 246.2 L473.0 245.4 L473.8 246.6 L474.9 245.2 L474.7 247.2 L476.5 246.3 L475.5 248.2 L477.9 247.5 L476.1 249.4 L478.6 249.2 L476.5 250.8 L479.1 250.7 L476.9 252.3 L479.3 252.3 L477.7 253.6 L479.6 253.6 L478.4 254.9 L480.2 254.9 L479.2 256.1 L480.5 256.2 L479.8 257.4 L481.2 257.3 L481.0 258.7 L481.7 257.9 L482.7 258.9 L482.0 256.9 L484.1 257.6 L482.7 255.7 L485.3 256.6 L482.8 254.5 L486.0 255.3 L483.6 253.4 L486.6 254.0 L484.4 252.3 L486.6 252.5 L484.9 251.1 L486.9 251.1 L485.8 249.9 L487.3 250.0 L486.4 248.7 L488.0 248.8 L487.3 247.3 L488.6 248.1 L488.9 246.6 L489.5 248.2 L490.5 246.8 L490.7 248.5 L490.8 247.5 L492.1 247.8 L491.0 246.4 L492.7 246.1 L491.4 244.8 L493.1 244.6 L492.2 243.4 L493.5 243.2 L492.7 242.1 L493.9 241.9 L493.3 240.9 L494.5 240.8 L493.8 239.4 L495.2 240.0 L495.5 238.7 L496.8 239.7 L496.7 238.2 L498.0 238.9 L498.0 237.3 L498.6 238.4 L499.6 237.4 L499.0 239.5 L501.0 238.1 L500.1 240.3 L501.5 238.6 L501.8 240.9 L502.0 238.6 L502.8 240.3 L503.8 237.9 L502.6 240.6 L504.8 239.8 L503.2 241.4 L505.6 241.0 L504.0 242.8 L505.1 241.5 L506.3 243.1 L504.2 241.1 L506.9 241.4 L504.9 239.9 L507.6 240.2 L505.3 238.7 L508.0 238.8 L505.7 237.1 L508.5 237.2 L506.0 235.6 L509.1 235.8 L506.8 234.1 L509.5 234.5 L507.6 232.9 L509.8 233.2 L508.6 231.6 L509.8 232.1 L510.1 231.1 L510.5 232.8 L510.7 231.7 L512.0 232.2 L510.8 230.8 L512.6 230.8 L511.0 229.4 L513.0 229.5 L511.8 228.2 L513.8 228.4 L512.3 227.1 L514.1 227.7 L514.0 225.2 L512.9 227.6 L515.0 227.5 L513.5 228.8 L515.4 229.0 L513.9 230.4 L516.0 230.1 L514.6 231.8 L516.9 231.0 L515.3 233.1 L517.5 232.1 L516.8 234.3 L517.6 232.7 L518.8 233.9 L517.3 232.2 L519.6 232.3 L517.7 230.9 L520.2 231.4 L518.3 229.2 L520.6 230.8 L519.6 228.5 L521.7 230.2 L520.5 228.1 L522.5 228.8 L521.0 226.9 L523.1 227.7 L522.0 225.8 L523.7 227.5 L524.3 224.8 L522.8 227.1 L524.4 227.2 L523.7 228.1 L524.8 228.7 L523.9 229.5 L524.9 230.1 L524.2 230.9 L525.0 231.6 L524.5 232.4 L525.1 233.0 L524.7 233.8 L525.2 234.6 L524.9 235.3 L525.3 236.1 L524.8 236.8 L525.5 237.6 L525.0 238.4 L525.7 239.1 L525.0 239.9 L525.8 240.6 L525.1 241.4 L526.0 242.1 L525.2 242.9 L526.1 243.6 L525.4 244.4 L526.2 245.1 L525.4 245.9 L526.3 246.6 L525.6 247.4 L526.4 248.1 L525.8 248.9 L526.5 249.6 L525.9 250.4 L526.5 251.1 L526.1 251.9 L526.6 252.6 L526.2 253.4 L526.8 254.1 L526.2 254.9 L527.1 255.6 L526.2 256.4 L527.2 257.1 L526.4 257.9 L527.3 258.6 L526.5 259.4 L527.3 260.1 L526.6 260.9 L527.3 261.6 L526.7 262.4 L527.4 263.1 L526.9 263.9 L527.4 264.7 L526.9 265.4 L527.6 266.2 L527.0 266.9 L527.7 267.7 L527.0 268.4 L527.8 269.2 L527.0 269.9 L527.9 270.7 L527.0 271.5 L527.9 272.2 L526.9 273.0 L527.9 273.7 L527.0 274.5 L527.9 275.2 L527.0 276.0 L528.1 276.7 L527.1 277.5 L528.2 278.2 L527.1 279.0 L528.1 279.7 L527.2 280.5 L528.2 281.2 L527.3 282.0 L528.1 282.7 L527.3 283.5 L528.3 284.2 L527.4 285.0 L528.3 285.7 L527.5 286.5 L527.4 286.3 L528.3 286.5 L527.6 285.6 L528.4 284.9 L527.6 284.1 L528.6 283.3 L527.8 282.5 L528.7 281.7 L527.8 280.9 L528.8 280.2 L527.7 279.3 L528.9 278.6 L527.8 277.7 L529.1 277.0 L528.0 276.1 L529.1 275.4 L528.1 274.5 L529.3 273.8 L528.2 273.0 L529.2 272.2 L528.5 271.4 L529.3 270.7 L528.6 269.9 L529.4 269.2 L528.9 268.4 L529.5 267.7 L529.1 266.9 L529.6 266.2 L529.2 265.4 L529.8 264.7 L529.3 263.9 L530.0 263.2 L529.4 262.3 L529.8 262.5 L530.7 262.2 L529.7 263.2 L530.6 263.8 L529.9 264.8 L531.1 265.3 L530.0 266.3 L532.4 266.4 L530.9 269.3 L530.4 266.8 L531.5 266.2 L530.6 265.4 L531.6 264.7 L530.9 263.9 L531.7 263.2 L531.1 262.4 L531.8 261.7 L531.2 260.9 L532.1 260.2 L531.3 259.3 L531.5 259.6 L532.3 259.4 L531.4 260.3 L532.4 261.0 L531.5 261.8 L532.6 262.6 L531.7 263.4 L532.7 264.1 L531.8 265.0 L532.9 265.7 L531.9 266.6 L532.9 267.3 L532.0 268.1 L532.9 268.9 L532.2 269.7 L533.1 270.4 L532.3 271.3 L533.1 272.0 L532.5 272.9 L533.2 273.6 L532.6 274.5 L533.2 274.3 L533.5 274.5 L532.8 273.7 L533.7 273.0 L532.9 272.2 L533.7 271.5 L533.1 270.7 L534.0 270.0 L533.1 269.1 L534.1 268.5 L533.2 267.6 L534.3 267.0 L533.3 266.1 L534.5 265.5 L533.5 264.6 L534.7 264.0 L533.8 263.1 L534.9 262.5 L534.0 261.6 L535.1 261.0 L534.3 260.1 L535.3 259.5 L534.5 258.6 L536.0 258.2 L535.1 256.0 L534.2 258.3 L535.9 258.6 L535.1 259.5 L536.1 260.1 L535.4 261.0 L536.5 261.6 L535.7 262.5 L536.8 263.1 L536.0 264.0 L537.0 264.6 L536.3 265.5 L537.2 266.1 L536.6 267.0 L537.4 267.6 L536.8 268.5 L537.5 269.2 L537.0 270.0 L537.7 270.7 L537.2 271.5 L537.9 272.2 L537.3 273.0 L538.0 273.7 L537.4 274.5 L538.1 275.2 L537.5 276.0 L538.4 276.7 L537.6 277.5 L538.5 278.2 L537.8 279.0 L538.7 279.7 L538.0 280.5 L538.9 281.2 L538.1 282.0 L539.1 282.7 L538.2 283.6 L539.4 284.2 L538.5 285.1 L539.6 285.7 L538.7 286.6 L539.7 287.2 L538.9 288.1 L539.9 288.7 L539.1 289.6 L540.2 290.2 L538.8 291.3 L541.0 291.2 L539.8 293.0 L540.8 291.6 L541.9 293.0 L540.9 291.2 L542.7 291.2 L541.8 290.2 L542.5 289.5 L541.9 288.7 L542.7 288.0 L542.1 287.2 L542.8 286.5 L542.3 285.7 L543.0 285.0 L542.3 284.2 L543.3 283.5 L542.4 282.6 L543.7 282.1 L542.6 281.1 L543.9 280.6 L543.0 279.6 L544.2 279.1 L543.3 278.1 L544.9 277.8 L543.3 276.4 L545.5 276.8 L544.5 275.0 L544.9 276.1 L546.1 275.7 L545.3 276.7 L545.9 277.4 L545.5 278.3 L546.2 278.9 L545.7 279.8 L546.4 280.4 L545.9 281.3 L546.6 281.9 L546.1 282.8 L547.0 283.4 L546.4 284.3 L547.5 284.8 L546.5 285.9 L547.9 286.4 L547.0 287.4 L548.5 287.8 L547.0 289.1 L549.1 289.0 L547.6 290.4 L549.8 290.0 L548.2 291.6 L550.5 291.2 L548.9 292.7 L550.6 292.0 L550.6 293.9 L549.4 292.3 L550.7 291.8 L550.1 291.0 L550.8 290.3 L550.3 289.5 L550.9 288.8 L550.4 288.0 L551.1 287.3 L550.6 286.5 L551.3 285.8 L550.8 285.0 L551.5 284.3 L550.9 283.4 L551.9 282.9 L550.6 281.8 L553.0 282.1 L551.4 280.3 L552.5 281.9 L553.7 279.6 L552.5 282.3 L555.1 281.0 L553.5 283.1 L555.7 282.4 L554.3 284.1 L556.3 283.9 L554.8 285.2 L556.1 285.7 L555.6 286.6 L556.5 287.2 L555.7 288.3 L556.5 288.1 L557.1 288.2 L556.4 287.2 L557.2 286.6 L556.6 285.7 L557.6 285.1 L556.7 284.2 L557.8 283.6 L556.8 282.6 L558.0 282.1 L556.8 281.0 L558.8 280.9 L557.4 279.6 L559.1 279.6 L558.0 278.4 L559.5 278.4 L558.5 277.0 L560.4 277.5 L560.1 275.8 L560.9 276.8 L561.9 275.8 L561.0 277.6 L563.2 277.1 L561.3 278.7 L563.5 278.8 L562.3 279.8 L563.3 280.4 L562.5 281.3 L563.6 281.9 L562.6 282.8 L563.9 283.4 L563.0 284.3 L563.9 284.9 L563.3 285.8 L564.2 286.4 L563.7 287.3 L564.5 287.9 L564.1 288.8 L564.9 289.4 L564.2 290.5 L564.9 290.4 L565.7 290.5 L564.8 289.4 L565.7 288.8 L565.1 287.9 L566.1 287.3 L565.4 286.4 L566.5 285.8 L565.5 284.9 L566.6 284.3 L565.8 283.4 L566.7 282.8 L566.2 281.9 L566.9 281.3 L566.5 280.4 L567.1 279.8 L566.4 278.8 L567.4 278.4 L567.1 277.5 L568.5 278.1 L567.9 276.3 L569.7 277.5 L568.5 275.0 L571.3 276.8 L569.7 274.0 L572.0 275.5 L571.0 273.0 L572.2 274.9 L573.3 272.8 L572.1 274.9 L573.8 275.0 L572.8 276.1 L574.1 276.6 L573.5 277.6 L574.5 278.1 L573.8 279.3 L574.5 279.1 L575.3 279.3 L574.4 278.1 L575.7 277.6 L574.6 276.5 L576.4 276.5 L575.4 274.2 L575.9 276.6 L577.5 275.6 L576.1 277.3 L578.5 277.0 L576.8 278.4 L578.7 278.7 L577.1 280.0 L579.3 280.0 L578.5 282.5 L577.4 280.0 L579.2 279.8 L578.3 278.9 L579.4 278.3 L578.7 277.4 L579.5 276.8 L578.9 275.9 L579.7 275.3 L579.2 274.4 L580.2 273.8 L579.4 272.8 L580.9 272.4 L579.9 271.2 L581.3 270.9 L580.6 269.7 L582.0 269.8 L581.8 268.4 L582.3 269.1 L583.5 268.7 L582.3 270.1 L583.6 270.6 L582.5 271.6 L584.2 272.0 L582.8 273.2 L585.0 273.1 L583.6 275.9 L583.2 273.0 L585.8 273.7 L583.4 272.0 L586.1 272.4 L584.3 270.9 L586.6 271.3 L585.1 269.6 L587.0 270.0 L586.1 268.4 L587.4 269.2 L587.8 267.4 L588.2 269.3 L589.7 268.0 L588.5 270.3 L591.2 269.1 L589.2 271.3 L591.8 270.6 L589.8 272.3 L592.2 272.0 L590.6 273.2 L592.1 273.6 L591.5 274.5 L592.3 275.1 L591.6 276.0 L592.5 276.7 L591.7 277.5 L592.9 278.1 L592.0 279.0 L593.1 279.7 L592.1 280.5 L593.3 281.2 L592.3 282.0 L593.4 282.7 L592.4 283.5 L593.6 284.2 L592.6 285.0 L593.6 285.7 L592.8 286.5 L593.7 287.2 L593.1 288.0 L593.9 288.7 L593.3 289.5 L593.9 290.2 L593.5 291.0 L594.0 291.7 L593.7 292.5 L594.2 293.2 L593.7 294.1 L594.5 294.7 L593.8 295.6 L594.7 296.2 L593.9 297.1 L594.4 296.6 L594.9 297.1 L594.0 296.2 L595.2 295.6 L594.0 294.7 L595.1 294.1 L594.1 293.2 L595.4 292.6 L594.2 291.7 L594.9 292.3 L595.9 291.5 L594.6 292.6 L595.7 293.2 L594.9 294.1 L595.9 294.7 L595.3 295.6 L596.1 296.2 L595.5 297.1 L596.2 297.8 L595.8 298.6 L596.4 299.3 L596.0 300.1 L596.6 300.8 L596.2 301.6 L596.9 302.3 L596.2 303.1 L597.3 303.7 L596.3 304.6 L597.5 305.3 L596.6 306.1 L597.7 306.8 L596.8 307.6 L597.9 308.3 L597.0 309.1 L598.0 309.8 L597.3 310.6 L598.1 311.3 L597.6 312.1 L598.2 312.8 L597.9 313.6 L598.4 314.3 L597.9 315.2 L599.0 315.5 L598.5 316.4 L599.5 316.4 L599.6 317.7 L599.1 316.5 L599.7 315.9 L599.3 315.1 L599.9 314.4 L599.3 313.6 L600.0 312.9 L599.4 312.1 L600.3 311.4 L599.5 310.6 L600.5 309.9 L599.5 309.0 L600.6 308.4 L599.6 307.5 L600.6 306.9 L599.8 306.0 L600.6 305.3 L600.0 304.5 L600.6 303.8 L600.2 303.0 L600.7 302.3 L600.3 301.5 L600.9 300.8 L600.3 300.0 L601.2 299.3 L600.2 298.5 L601.4 297.8 L600.3 297.0 L601.5 296.3 L600.6 295.5 L601.5 294.8 L600.7 294.0 L601.6 293.3 L600.5 292.3 L601.3 292.7 L602.3 292.2 L601.1 293.5 L602.6 293.9 L601.6 294.9 L602.7 295.5 L602.1 296.3 L602.9 297.0 L602.4 297.8 L603.1 298.5 L602.6 299.3 L603.3 300.0 L602.8 300.8 L603.5 301.5 L603.0 302.3 L603.7 303.0 L603.1 303.9 L603.9 304.5 L603.3 305.4 L604.1 306.0 L603.4 306.9 L604.4 307.5 L603.6 308.4 L604.5 309.0 L603.8 309.9 L604.7 310.5 L603.9 311.4 L604.8 312.1 L604.2 312.9 L605.0 313.6 L604.3 314.4 L605.4 314.9 L604.4 315.9 L606.0 315.9 L605.0 317.3 L605.4 316.5 L606.8 316.9 L605.7 315.8 L606.5 315.1 L605.7 314.3 L606.7 313.6 L605.7 312.8 L607.0 312.2 L605.9 311.3 L607.1 310.6 L606.2 309.8 L607.1 309.1 L606.4 308.3 L607.2 307.6 L606.8 306.8 L607.3 306.1 L606.9 305.3 L607.5 304.6 L607.0 303.8 L607.7 303.1 L607.0 302.3 L607.9 301.6 L607.2 300.8 L608.0 300.1 L607.4 299.3 L608.2 298.6 L607.6 297.8 L608.2 297.1 L607.7 296.2 L608.1 296.1 L608.4 296.2 L608.0 297.1 L608.6 297.8 L608.1 298.6 L608.8 299.3 L608.2 300.1 L609.1 300.8 L608.3 301.6 L609.3 302.3 L608.4 303.1 L609.5 303.8 L608.5 304.6 L609.6 305.3 L608.7 306.1 L609.7 306.8 L608.9 307.6 L609.9 308.3 L609.0 309.1 L610.0 309.8 L609.2 310.6 L610.2 311.3 L609.4 312.1 L610.3 312.8 L609.7 313.6 L610.4 314.3 L609.9 315.1 L610.4 315.8 L610.1 316.6 L610.6 317.3 L610.3 318.1 L610.7 318.8 L610.5 319.6 L610.9 320.3 L610.6 321.2 L611.2 321.8 L610.8 322.7 L611.4 323.4 L611.0 324.2 L611.6 324.9 L611.1 325.7 L611.7 326.4 L611.2 327.2 L611.9 327.9 L611.3 328.7 L612.1 329.4 L611.3 330.2 L612.1 330.9 L611.4 331.7 L612.3 332.4 L611.6 333.2 L612.4 333.9 L611.6 334.7 L612.5 335.4 L611.8 336.2 L612.6 336.9 L612.0 337.7 L612.7 338.5 L612.1 339.3 L612.8 340.1 L612.1 340.9 L612.8 341.7 L612.2 342.5 L612.9 343.2 L612.3 344.1 L613.0 344.8 L612.4 345.7 L613.1 346.4 L612.3 347.3 L613.2 348.0 L612.4 348.9 L613.2 349.6 L612.5 350.4 L613.3 351.2 L612.6 352.0 L613.2 352.7 L612.7 353.5 L613.3 354.2 L612.7 355.0 L613.3 355.7 L612.8 356.5 L613.3 357.2 L612.7 358.0 L613.1 357.9 L613.5 358.0 L612.8 357.2 L613.7 356.5 L612.8 355.7 L613.9 355.0 L612.9 354.2 L614.0 353.5 L612.9 352.7 L614.1 352.0 L613.1 351.2 L614.3 350.5 L613.2 349.7 L614.4 349.0 L613.1 348.2 L614.5 347.5 L613.3 346.7 L614.7 346.0 L613.4 345.2 L614.8 344.5 L613.6 343.7 L614.7 343.0 L613.9 342.2 L614.8 341.5 L613.9 340.7 L614.8 340.0 L614.1 339.2 L614.9 338.5 L614.2 337.7 L615.0 337.0 L614.4 336.1 L615.3 335.5 L614.4 334.6 L615.5 334.0 L614.5 333.1 L615.6 332.5 L614.7 331.6 L615.9 331.0 L614.8 330.1 L615.9 329.4 L615.0 328.6 L616.1 327.9 L615.2 327.1 L616.2 326.4 L615.3 325.6 L616.2 324.9 L615.6 324.1 L616.4 323.4 L615.9 322.6 L616.8 322.0 L616.2 321.0 L617.1 320.5 L616.3 319.5 L617.7 319.0 L616.2 317.9 L618.9 317.8 L616.3 316.2 L619.5 316.4 L616.9 314.7 L619.8 314.7 L617.9 313.4 L619.3 313.0 L618.3 312.0 L619.5 311.4 L618.6 310.5 L619.7 309.9 L618.9 309.0 L619.9 308.4 L619.2 307.5 L620.5 307.2 L619.5 305.1 L619.9 307.5 L621.2 306.3 L621.7 308.4 L620.6 306.2 L622.3 306.2 L621.2 305.1 L622.9 304.8 L621.5 303.6 L623.3 303.3 L621.9 302.1 L623.6 301.8 L622.2 300.6 L624.0 300.2 L622.7 299.1 L624.5 298.8 L623.2 297.6 L625.1 297.4 L623.4 295.9 L625.7 296.2 L624.4 294.7 L626.3 295.0 L625.0 293.4 L627.3 293.8 L625.4 292.2 L627.8 292.5 L626.0 291.0 L628.3 291.2 L626.1 289.6 L629.0 290.1 L626.7 288.4 L629.6 288.8 L627.1 287.1 L630.3 287.6 L627.6 285.8 L630.6 286.4 L628.1 284.6 L630.5 285.7 L629.7 282.7 L630.1 285.8 L631.7 284.0 L630.6 286.3 L633.5 285.0 L630.9 286.9 L632.8 287.2 L632.0 288.1 L633.0 288.7 L632.0 289.6 L633.1 290.2 L632.3 291.1 L633.4 291.6 L632.9 293.7 L632.4 291.6 L633.7 291.1 L632.6 290.2 L633.9 289.6 L633.0 288.7 L633.9 288.1 L633.2 287.2 L634.0 286.5 L633.5 285.7 L634.1 285.0 L633.7 284.2 L634.3 283.5 L633.8 282.7 L634.6 282.0 L634.0 281.1 L635.2 280.6 L634.4 279.6 L635.5 279.1 L634.8 278.1 L636.3 277.9 L635.4 275.9 L635.8 278.1 L637.3 277.2 L636.4 278.6 L638.3 278.6 L637.0 279.8 L637.9 280.4 L637.3 281.3 L638.2 281.9 L637.5 282.8 L638.9 283.2 L638.2 285.3 L637.1 283.1 L638.8 282.8 L638.1 281.9 L639.1 281.3 L638.2 280.4 L639.4 279.8 L638.4 278.9 L639.6 278.3 L638.7 277.4 L639.9 276.8 L638.7 275.9 L640.1 275.3 L638.2 274.0 L641.1 274.4 L639.1 272.2 L641.7 273.5 L640.6 271.1 L642.9 272.5 L641.9 270.2 L643.7 271.5 L642.9 269.3 L644.9 270.8 L644.1 268.6 L646.1 269.5 L645.3 267.4 L646.8 268.4 L647.3 266.9 L647.5 268.3 L648.9 268.1 L647.9 269.2 L648.6 269.9 L648.2 270.7 L648.9 271.4 L648.4 272.2 L649.2 272.9 L648.7 273.7 L649.5 274.4 L648.8 275.3 L649.8 275.9 L649.0 276.8 L650.1 277.4 L649.3 278.3 L650.5 278.9 L649.7 279.8 L650.8 280.4 L649.8 281.3 L651.1 281.9 L650.2 282.8 L651.3 283.4 L650.4 284.3 L651.6 284.9 L650.7 285.8 L651.9 286.4 L650.9 287.4 L653.2 287.5 L651.8 290.3 L650.7 287.7 L652.6 287.3 L651.6 286.4 L652.6 285.8 L651.7 284.9 L652.8 284.3 L652.0 283.4 L653.1 282.8 L651.5 281.6 L652.8 282.1 L654.0 281.6 L652.8 282.8 L653.5 283.4 L653.1 284.3 L653.8 285.0 L653.5 285.8 L654.0 286.5 L653.7 287.3 L654.2 288.0 L653.8 288.8 L654.4 289.5 L654.0 290.3 L654.7 291.0 L654.1 291.8 L654.8 292.5 L654.2 293.3 L655.1 294.0 L654.4 294.8 L655.3 295.5 L654.6 296.3 L655.6 297.0 L654.9 297.8 L655.9 298.5 L655.1 299.4 L656.7 299.7 L655.8 302.1 L655.4 299.9 L656.5 299.3 L655.6 298.5 L656.6 297.8 L655.6 297.0 L656.9 296.3 L655.8 295.5 L657.0 294.8 L656.0 294.0 L657.0 293.3 L656.1 292.5 L657.2 291.8 L656.4 291.0 L657.2 290.3 L656.6 289.5 L657.3 288.8 L656.9 288.0 L657.6 287.3 L657.1 286.4 L657.8 285.8 L657.3 284.9 L658.0 284.3 L657.6 283.4 L658.2 282.8 L657.5 281.7 L658.8 281.7 L658.2 280.7 L659.7 281.7 L658.9 280.2 L660.0 279.8 L659.5 278.9 L660.4 278.3 L659.9 277.4 L660.7 276.8 L660.3 275.9 L661.2 275.3 L660.6 274.3 L661.7 273.9 L661.0 272.8 L662.4 272.4 L661.1 271.1 L663.2 271.0 L661.3 269.5 L664.1 269.6 L661.6 268.0 L664.7 268.1 L662.3 266.5 L665.2 266.7 L662.7 265.1 L665.5 265.5 L663.3 263.9 L665.8 264.3 L663.6 262.3 L666.8 263.7 L664.9 261.2 L667.5 262.7 L665.9 260.3 L668.3 261.9 L667.0 258.9 L669.0 261.0 L669.2 258.6 L669.6 260.6 L671.3 259.2 L669.4 261.2 L671.8 260.9 L669.9 262.4 L672.3 262.3 L670.5 263.5 L672.2 263.9 L671.4 264.8 L672.4 265.4 L671.5 266.3 L672.8 266.9 L671.7 267.8 L673.0 268.4 L671.9 269.3 L673.1 269.9 L672.4 270.8 L673.3 271.5 L672.6 272.4 L673.2 273.1 L672.7 274.0 L673.4 274.7 L672.9 275.5 L673.5 276.3 L672.9 277.1 L673.6 277.9 L673.0 278.7 L673.8 279.5 L673.1 280.3 L674.0 281.1 L673.2 281.9 L674.1 282.7 L673.4 283.6 L674.5 284.1 L673.2 285.2 L675.1 285.2 L674.0 286.4 L675.7 286.0 L675.6 287.9 L674.8 286.3 L675.8 285.8 L675.3 285.0 L676.0 284.3 L675.5 283.5 L676.3 282.8 L675.5 282.0 L676.4 281.3 L675.8 280.5 L676.7 279.8 L675.8 278.9 L677.1 278.3 L676.0 277.4 L677.2 276.8 L676.1 275.9 L676.8 276.2 L677.4 275.9 L676.6 276.8 L677.4 277.5 L676.8 278.3 L677.6 279.0 L677.1 279.8 L677.7 280.5 L677.3 281.3 L677.9 282.0 L677.4 282.8 L678.1 283.5 L677.7 284.3 L678.3 285.0 L677.8 285.8 L678.4 286.5 L677.6 287.5 L678.6 287.3 L679.1 287.8 L678.2 286.6 L679.8 286.5 L678.6 285.3 L680.4 285.2 L679.3 284.2 L680.4 283.6 L679.7 282.7 L680.6 282.1 L679.9 281.2 L680.8 280.6 L680.1 279.7 L681.0 279.1 L680.3 278.2 L681.4 277.6 L680.4 276.7 L681.5 276.1 L680.7 275.2 L681.9 274.6 L680.9 273.7 L682.0 273.1 L681.1 272.1 L682.4 271.6 L681.5 270.7 L682.6 270.1 L681.6 269.1 L683.0 268.6 L682.1 267.6 L683.7 267.4 L681.7 265.5 L684.2 266.9 L683.8 264.6 L683.9 266.5 L685.5 265.3 L684.2 267.2 L686.3 266.8 L685.1 268.4 L686.9 268.2 L685.9 269.6 L687.5 269.6 L686.6 270.7 L688.1 270.9 L686.9 272.1 L688.9 272.1 L687.2 273.4 L689.2 273.6 L688.0 274.6 L689.0 275.2 L688.2 276.1 L689.2 276.7 L688.5 277.6 L689.4 278.2 L688.5 279.1 L689.5 279.7 L688.7 280.6 L689.7 281.2 L688.9 282.1 L689.8 282.7 L689.0 283.7 L689.6 283.2 L690.2 283.7 L689.4 282.7 L690.4 282.1 L689.4 281.2 L690.6 280.6 L689.6 279.7 L690.9 279.1 L689.7 278.2 L691.0 277.6 L689.9 276.7 L691.2 276.1 L690.2 275.2 L691.4 274.6 L690.4 273.7 L691.7 273.1 L690.6 272.1 L692.2 271.7 L690.2 270.3 L693.0 270.3 L690.7 268.8 L693.5 268.9 L691.1 267.3 L693.7 267.3 L691.9 265.9 L694.2 265.8 L692.3 264.4 L694.9 264.5 L692.4 262.8 L695.3 263.1 L693.1 261.6 L696.1 261.9 L693.4 260.1 L696.4 260.5 L694.2 258.9 L696.7 259.2 L694.6 257.4 L697.4 258.0 L695.5 256.2 L698.3 256.8 L696.0 254.9 L698.7 255.4 L696.7 253.5 L699.3 254.1 L697.8 252.4 L699.9 252.8 L698.5 251.2 L700.8 251.7 L699.3 249.8 L701.5 250.4 L700.1 248.5 L702.4 249.3 L700.8 247.2 L703.4 248.1 L701.8 246.2 L704.3 246.8 L702.4 244.8 L705.2 245.7 L703.3 243.2 L704.3 245.3 L706.0 243.8 L704.3 245.3 L705.6 245.8 L704.6 246.8 L706.0 247.3 L704.9 248.3 L706.4 248.8 L705.2 249.8 L706.6 250.3 L705.6 251.3 L707.3 251.6 L706.5 253.8 L705.8 251.7 L706.9 251.2 L706.5 250.4 L707.3 249.7 L706.6 248.9 L707.5 248.2 L706.7 247.4 L707.7 246.7 L706.9 245.8 L707.8 245.2 L707.2 244.3 L708.1 243.7 L707.3 242.7 L708.8 242.3 L707.8 241.2 L709.3 240.9 L708.4 239.7 L709.7 239.3 L708.8 238.2 L710.2 237.8 L709.3 236.7 L710.7 236.3 L709.8 235.2 L711.0 234.8 L710.2 233.7 L711.6 233.4 L710.8 232.2 L712.3 232.2 L711.5 231.0 L712.9 230.9 L712.2 229.7 L713.5 229.9 L713.0 228.4 L714.6 229.4 L713.9 227.3 L716.0 228.5 L714.5 226.6 L716.9 227.1 L714.7 225.5 L717.2 225.8 L715.5 224.4 L717.8 224.4 L716.0 223.1 L717.9 222.8 L716.7 221.7 L718.3 221.3 L716.8 219.9 L717.9 220.8 L719.2 219.9 L717.7 221.2 L718.7 221.8 L718.0 222.6 L718.9 223.3 L718.3 224.2 L719.1 224.8 L718.6 225.6 L719.3 226.3 L718.8 227.1 L719.6 227.8 L719.1 228.7 L719.9 229.3 L719.5 230.2 L720.5 230.7 L719.8 231.7 L720.9 232.2 L720.0 233.3 L721.4 233.7 L720.3 235.0 L721.1 234.4 L721.8 234.7 L721.0 233.8 L721.8 233.0 L721.2 232.2 L721.8 231.4 L721.4 230.6 L722.0 229.9 L721.6 229.0 L722.1 228.3 L721.8 227.5 L722.3 226.7 L721.9 225.9 L722.4 225.1 L722.1 224.3 L722.6 223.5 L722.2 222.7 L722.8 222.0 L722.4 221.1 L722.9 220.4 L722.5 219.5 L723.1 218.9 L722.7 218.0 L723.6 217.4 L723.1 216.5 L723.9 215.9 L723.2 214.9 L724.3 214.4 L723.0 213.2 L725.4 213.4 L723.4 211.4 L726.2 212.8 L725.0 210.1 L725.4 212.4 L727.4 211.0 L725.5 212.4 L727.0 212.9 L725.9 213.8 L727.3 214.4 L726.1 215.3 L727.4 215.8 L726.2 216.7 L727.6 217.3 L726.5 218.2 L727.8 218.8 L726.8 219.6 L727.8 220.3 L726.8 221.2 L727.9 221.9 L727.0 222.7 L727.8 223.5 L727.2 224.3 L727.9 225.0 L727.3 225.9 L727.9 226.6 L727.3 227.4 L727.9 228.2 L727.4 229.0 L728.1 229.8 L727.4 230.6 L728.2 231.3 L727.5 232.2 L728.4 232.9 L727.5 233.7 L728.4 234.5 L727.5 235.3 L728.5 236.0 L727.7 236.9 L728.7 237.6 L727.8 238.4 L728.6 239.2 L727.8 240.0 L728.8 240.7 L727.7 241.6 L729.0 242.3 L727.8 243.1 L729.1 243.9 L727.9 244.7 L729.0 245.4 L728.1 246.3 L729.0 247.0 L728.2 247.8 L729.1 248.6 L728.3 249.4 L729.1 250.1 L728.4 251.0 L729.3 251.7 L728.4 252.5 L729.3 253.3 L728.4 254.1 L729.4 254.8 L728.5 255.7 L729.5 256.4 L728.5 257.2 L729.7 257.9 L728.6 258.7 L729.7 259.4 L728.7 260.2 L729.8 260.9 L728.9 261.7 L729.9 262.4 L728.9 263.2 L729.9 263.9 L729.0 264.8 L730.1 265.4 L729.2 266.3 L730.1 267.0 L729.2 267.8 L730.1 268.4 L730.2 270.1 L729.5 268.4 L730.3 267.7 L729.5 266.9 L730.4 266.1 L729.4 265.3 L730.4 264.5 L729.6 263.7 L730.6 263.0 L729.6 262.1 L730.6 261.4 L729.6 260.6 L730.7 259.8 L729.6 259.0 L730.9 258.3 L729.8 257.4 L730.8 256.7 L729.9 255.9 L730.8 255.1 L730.1 254.3 L730.8 253.5 L730.2 252.7 L730.9 252.0 L730.1 250.2 L730.2 252.0 L731.1 252.7 L730.2 253.5 L731.2 254.2 L730.3 255.0 L731.3 255.7 L730.4 256.5 L731.3 257.2 L730.3 258.0 L731.5 258.7 L730.4 259.5 L731.5 260.2 L730.6 261.0 L731.7 261.7 L730.5 262.5 L731.7 263.2 L730.7 264.0 L731.7 264.8 L730.7 265.6 L731.9 266.3 L730.8 267.1 L731.9 267.9 L730.7 268.7 L731.7 269.4 L731.0 270.3 L731.8 271.0 L731.0 271.8 L731.7 272.6 L731.2 273.4 L731.8 274.1 L731.2 274.9 L731.8 275.7 L731.3 276.5 L731.8 277.3 L731.3 278.1 L731.9 278.8 L731.3 279.6 L732.0 280.4 L731.3 281.2 L732.1 281.9 L731.3 282.7 L732.1 283.5 L731.3 284.3 L732.2 285.1 L731.4 285.8 L732.2 286.6 L731.3 287.4 L732.1 288.2 L731.3 288.9 L732.1 289.7 L731.4 290.5 L732.0 291.3 L731.4 292.0 L732.0 292.8 L731.5 293.6 L731.9 294.4 L731.3 295.2 L732.0 295.9 L731.3 296.7 L732.0 297.5 L731.2 298.3 L732.0 299.0 L731.1 299.8 L732.1 300.6 L731.0 301.4 L732.2 302.1 L731.2 302.9 L732.1 303.7 L731.2 304.5 L731.9 305.3 L731.2 306.0 L731.9 306.8 L731.3 307.6 L731.9 308.4 L731.3 309.2 L731.9 310.0 L731.3 310.8 L732.0 311.6 L731.3 312.4 L732.2 313.1 L731.3 314.0 L732.3 314.7 L731.4 315.6 L732.3 316.3 L731.4 317.2 L732.4 317.9 L731.5 318.7 L732.4 319.5 L731.4 320.3 L732.6 321.1 L731.5 321.9 L732.5 322.7 L731.7 323.5 L732.5 324.3 L731.7 325.1 L732.5 325.9 L731.8 326.7 L732.5 327.5 L731.9 328.3 L732.5 329.1 L732.0 329.9 L732.5 330.7 L732.1 331.5 L732.6 332.3 L732.2 333.1 L732.6 333.9 L732.2 334.7 L732.7 335.4 L732.2 336.2 L732.9 337.0 L732.2 337.8 L732.9 338.6 L732.2 339.4 L733.2 340.1 L732.0 340.9 L733.3 341.7 L732.3 342.5 L733.1 343.2 L732.4 344.0 L733.1 344.8 L732.5 345.6 L733.2 346.4 L732.6 347.2 L733.2 347.9 L732.7 348.7 L733.3 349.5 L732.6 350.3 L733.4 351.0 L732.6 351.9 L733.6 352.6 L732.4 353.4 L733.7 354.2 L732.7 355.0 L732.7 354.5 L733.6 355.0 L732.9 354.1 L733.5 353.4 L733.0 352.5 L733.5 351.8 L733.0 350.9 L733.8 350.2 L732.8 349.3 L733.9 348.6 L732.7 347.7 L734.0 347.0 L732.8 346.1 L734.1 345.4 L733.0 344.5 L733.9 343.8 L732.9 342.9 L733.9 342.2 L733.1 341.3 L734.0 340.6 L733.1 339.7 L734.2 339.0 L733.2 338.1 L734.2 337.4 L733.1 336.5 L734.2 335.8 L733.2 334.9 L734.2 334.2 L733.2 333.3 L734.2 332.6 L733.4 331.7 L734.1 331.0 L733.5 330.1 L734.1 329.4 L733.6 328.6 L734.2 327.8 L733.6 327.0 L734.3 326.3 L733.5 325.5 L734.4 324.7 L733.5 323.9 L734.6 323.2 L733.3 322.4 L734.6 321.6 L733.6 320.8 L734.6 320.1 L733.8 319.3 L734.4 318.5 L733.9 317.7 L734.5 317.0 L734.0 316.2 L734.6 315.4 L734.0 314.6 L734.7 313.9 L734.0 313.1 L734.8 312.3 L734.0 311.5 L734.9 310.7 L734.0 309.9 L735.0 309.2 L733.9 308.4 L735.1 307.6 L734.1 306.8 L733.7 307.2 L735.1 306.9 L734.1 307.7 L735.0 308.5 L734.2 309.3 L735.0 310.1 L734.2 310.9 L735.0 311.7 L734.2 312.5 L735.0 313.3 L734.3 314.1 L735.0 314.9 L734.3 315.7 L735.0 316.5 L734.2 317.3 L735.0 318.0 L734.3 318.9 L735.0 319.6 L734.3 320.5 L735.0 321.2 L734.3 322.0 L735.0 322.8 L734.4 323.6 L735.0 324.4 L734.4 325.2 L735.0 326.0 L734.4 326.8 L735.0 327.6 L734.4 328.4 L735.0 329.2 L734.3 330.0 L735.2 330.8 L734.3 331.6 L735.3 332.4 L734.2 333.2 L735.2 334.0 L734.3 334.8 L735.2 335.6 L734.3 336.4 L735.3 337.2 L734.4 338.0 L735.3 338.8 L734.5 339.6 L735.2 340.4 L734.5 341.2 L735.1 342.0 L734.5 342.8 L735.3 343.6 L734.4 344.4 L735.2 345.2 L734.5 346.0 L735.3 346.8 L734.5 347.6 L735.3 348.4 L734.5 349.2 L735.2 350.0 L734.5 350.8 L735.3 351.6 L734.6 352.4 L735.2 353.2 L734.7 354.0 L735.3 354.8 L734.7 355.6 L735.3 356.4 L734.7 357.2 L735.4 358.0 L734.6 358.8 L735.4 359.6 L734.6 360.4 L735.4 361.2 L734.6 362.0 L735.5 362.8 L734.7 363.6 L735.6 364.4 L734.7 365.2 L735.5 366.0 L734.7 366.8 L735.6 367.6 L734.6 368.4 L735.6 369.1 L734.7 370.0 L735.5 370.7 L735.2 372.7 L734.7 370.7 L735.7 370.0 L734.7 369.1 L735.8 368.4 L734.8 367.5 L735.9 366.8 L734.8 365.9 L735.9 365.2 L734.9 364.3 L736.0 363.6 L734.9 362.7 L735.9 362.0 L735.1 361.2 L736.0 360.4 L735.1 359.6 L735.9 358.8 L735.2 358.0 L736.0 357.2 L735.3 356.4 L736.0 355.6 L735.4 354.8 L736.0 354.0 L735.5 353.2 L736.1 352.4 L735.5 351.6 L736.2 350.8 L735.5 350.0 L736.5 349.2 L735.3 348.4 L736.6 347.6 L735.3 346.8 L736.5 346.0 L735.5 345.2 L736.6 344.5 L735.7 343.6 L736.7 342.9 L735.8 342.1 L736.6 341.3 L736.0 340.5 L736.6 339.8 L736.1 339.0 L736.7 338.2 L736.2 337.4 L736.8 336.7 L736.3 335.8 L736.9 335.1 L736.3 334.3 L737.0 333.5 L736.5 332.7 L737.0 332.0 L736.5 331.2 L737.2 330.4 L736.5 329.6 L737.3 328.9 L736.6 328.1 L737.4 327.3 L736.7 326.5 L737.4 325.8 L736.7 324.9 L737.6 324.2 L736.8 323.4 L737.6 322.6 L737.0 321.8 L737.7 321.1 L737.1 320.3 L737.7 319.5 L737.3 318.7 L737.8 317.9 L737.4 317.1 L737.9 316.4 L737.5 315.6 L738.0 314.8 L737.4 314.0 L738.3 313.3 L737.4 312.4 L738.5 311.7 L737.4 310.9 L738.6 310.1 L737.5 309.3 L738.8 308.6 L737.5 307.7 L738.7 307.0 L737.7 306.2 L738.9 305.4 L737.7 304.6 L739.0 303.9 L737.9 303.0 L739.1 302.3 L738.0 301.5 L738.9 300.7 L738.1 299.9 L738.9 299.1 L738.1 298.3 L738.9 297.5 L738.1 296.7 L738.8 296.0 L738.1 295.2 L738.9 294.4 L738.2 293.6 L738.8 292.8 L738.1 292.0 L738.8 291.2 L738.1 290.4 L738.9 289.6 L737.9 288.8 L739.0 288.1 L738.0 287.3 L739.0 286.5 L738.0 285.7 L739.0 284.9 L738.1 284.1 L738.8 283.3 L738.2 282.5 L738.8 281.7 L738.2 280.9 L738.9 280.2 L738.1 279.4 L738.9 278.6 L738.2 277.8 L739.0 277.0 L738.1 276.2 L739.0 275.4 L738.2 274.6 L738.9 273.8 L738.1 273.0 L739.1 272.3 L738.0 271.5 L739.2 270.8 L738.1 270.0 L739.2 269.3 L738.3 268.5 L739.2 267.8 L738.5 267.0 L739.1 266.2 L738.7 265.5 L739.3 264.7 L738.7 263.9 L739.4 263.2 L738.9 262.4 L739.5 261.7 L738.9 260.9 L739.6 260.2 L739.0 259.4 L739.8 258.6 L739.1 257.8 L739.8 257.1 L739.1 256.2 L739.9 255.5 L739.2 254.6 L740.0 253.9 L739.3 253.1 L740.1 252.3 L739.3 251.5 L740.2 250.7 L739.4 249.9 L740.2 249.1 L739.5 248.3 L740.3 247.6 L739.5 246.7 L740.5 246.0 L739.6 245.1 L740.4 244.4 L739.7 243.5 L740.5 242.8 L739.8 242.0 L740.6 241.2 L739.9 240.4 L740.8 239.6 L739.9 238.8 L740.8 238.0 L740.0 237.2 L740.9 236.5 L740.1 235.6 L741.1 234.9 L740.0 234.0 L741.2 233.3 L740.1 232.5 L741.2 231.7 L740.2 230.9 L741.3 230.1 L740.3 229.3 L741.3 228.6 L740.3 227.8 L741.5 227.1 L740.5 226.3 L741.6 225.6 L740.5 224.8 L741.5 224.1 L740.6 223.3 L741.6 222.6 L740.7 221.8 L741.6 221.1 L740.9 220.3 L741.6 219.6 L741.1 218.8 L741.7 218.1 L741.2 217.3 L742.0 216.6 L741.2 215.8 L742.2 215.1 L741.3 214.3 L742.3 213.6 L741.4 212.7 L742.6 212.1 L741.6 211.2 L742.7 210.6 L741.7 209.7 L742.8 209.1 L741.8 208.2 L743.0 207.5 L741.9 206.7 L743.1 206.0 L741.9 205.1 L743.2 204.4 L742.0 203.6 L743.3 202.9 L742.0 202.0 L743.4 201.3 L742.3 200.5 L743.5 199.8 L742.5 199.0 L743.6 198.3 L742.6 197.5 L743.6 196.8 L742.8 196.0 L743.6 195.3 L743.0 194.5 L743.6 193.8 L743.2 193.0 L743.7 192.3 L743.1 191.5 L744.0 190.8 L743.2 190.0 L744.3 189.3 L743.1 188.4 L744.2 187.8 L743.2 186.9 L744.3 186.3 L743.5 185.4 L744.5 184.8 L743.7 183.9 L744.5 183.2 L743.8 182.4 L744.6 181.7 L743.9 180.9 L744.7 180.2 L744.1 179.4 L744.8 178.7 L744.2 177.9 L744.9 177.2 L744.3 176.4 L745.0 175.7 L744.4 174.9 L745.3 174.2 L744.4 173.4 L745.4 172.7 L744.4 171.8 L745.1 172.8 L746.2 171.6 L744.7 172.8 L746.0 173.3 L744.9 174.3 L746.3 174.8 L745.3 175.8 L746.5 176.4 L745.5 177.3 L747.2 177.7 L746.5 179.8 L745.8 177.8 L746.8 177.1 L746.0 176.3 L746.9 175.5 L746.2 174.7 L747.0 173.9 L746.4 173.1 L747.0 172.3 L746.5 171.5 L747.1 170.7 L746.7 169.9 L747.3 169.2 L746.8 168.3 L747.4 167.6 L746.9 166.7 L747.5 166.0 L747.0 165.1 L747.7 164.4 L747.3 163.6 L748.1 163.0 L747.5 162.1 L748.3 161.5 L747.7 160.6 L749.2 160.2 L748.4 158.1 L747.4 160.3 L749.1 160.5 L748.4 161.5 L749.5 162.0 L748.7 163.0 L749.8 163.5 L748.5 164.7 L749.6 164.2 L750.2 164.5 L749.3 163.6 L750.3 162.9 L749.3 162.1 L750.3 161.4 L749.4 160.6 L750.5 159.9 L749.6 159.1 L750.5 158.4 L749.8 157.6 L750.8 156.9 L749.9 156.1 L751.0 155.5 L749.9 154.4 L751.5 154.0 L750.4 153.0 L751.5 152.4 L751.1 151.6 L751.7 150.9 L751.3 150.1 L751.8 149.4 L751.5 148.6 L752.0 147.9 L751.5 147.1 L752.3 146.4 L751.5 145.5 L752.6 144.9 L751.6 144.0 L752.7 143.4 L751.6 142.5 L752.9 141.9 L752.0 141.0 L753.2 140.4 L752.1 139.5 L753.5 138.9 L752.2 138.0 L753.7 137.4 L752.5 136.5 L753.8 135.9 L752.8 135.0 L753.9 134.4 L752.9 133.5 L754.0 132.8 L753.3 132.0 L754.1 131.3 L753.5 130.5 L754.3 129.8 L753.7 129.0 L754.3 128.3 L754.0 127.5 L754.6 126.8 L754.1 126.0 L754.6 125.2 L754.1 124.4 L754.7 123.6 L754.1 122.8 L754.8 122.1 L754.0 121.3 L754.7 120.5 L754.0 119.7 L754.9 118.9 L754.1 118.1 L755.1 117.5 L754.2 116.6 L755.3 116.0 L754.2 115.1 L755.5 114.5 L754.3 113.6 L755.5 112.9 L754.6 112.1 L755.6 111.4 L754.6 110.6 L755.7 109.9 L754.8 109.1 L755.9 108.5 L754.9 107.7 L756.1 107.1 L755.3 106.3 L756.3 105.8 L754.9 104.7 L755.4 105.6 L756.5 105.0 L755.7 105.9 L756.6 106.6 L755.7 107.5 L756.8 108.2 L755.9 109.0 L756.9 109.7 L756.0 110.5 L757.0 111.3 L756.0 112.1 L757.1 112.8 L756.2 113.6 L757.1 114.4 L756.3 115.2 L757.2 115.9 L756.4 116.8 L757.3 117.5 L756.6 118.3 L757.4 119.1 L756.6 119.9 L757.5 120.7 L756.7 121.5 L757.6 122.3 L756.7 123.1 L757.7 123.8 L756.8 124.7 L757.8 125.4 L756.9 126.3 L757.8 127.0 L757.0 127.9 L758.0 128.6 L756.9 129.4 L758.0 130.2 L757.0 131.0 L758.0 131.8 L756.9 132.6 L758.1 133.4 L756.8 134.2 L758.2 135.0 L756.9 135.8 L758.0 136.6 L757.0 137.4 L757.9 138.2 L757.0 138.9 L757.9 139.7 L757.1 140.5 L757.9 141.3 L757.2 142.1 L757.8 142.9 L757.2 143.7 L757.7 144.5 L757.0 145.3 L757.9 146.1 L756.9 146.9 L758.0 147.7 L756.9 148.5 L758.0 149.3 L756.8 151.1 L757.1 149.3 L757.9 148.6 L757.1 147.7 L758.1 147.0 L757.3 146.2 L758.0 145.5 L757.4 144.7 L758.2 144.0 L757.5 143.2 L758.3 142.4 L757.6 141.6 L758.5 140.9 L757.5 140.1 L758.7 139.4 L757.6 138.5 L758.9 137.9 L757.7 137.0 L759.1 136.3 L757.8 135.5 L759.2 134.8 L757.9 133.9 L759.2 133.3 L758.2 132.3 L759.9 132.0 L758.3 130.7 L760.2 130.4 L758.6 129.0 L759.8 129.7 L760.8 129.1 L759.7 130.3 L760.5 130.9 L760.0 131.8 L760.7 132.4 L760.3 133.3 L761.0 133.9 L760.6 134.8 L761.3 135.5 L760.5 136.3 L761.4 137.1 L760.6 137.9 L761.5 138.6 L760.5 139.5 L761.7 140.2 L760.7 141.1 L761.7 141.8 L760.7 142.6 L761.8 143.4 L760.8 144.2 L761.9 144.9 L760.8 145.8 L762.0 146.5 L760.9 147.4 L762.0 148.1 L761.1 148.9 L761.9 149.7 L761.3 150.5 L761.6 150.7 L761.9 150.5 L761.4 149.7 L762.0 148.9 L761.5 148.1 L762.0 147.4 L761.6 146.6 L762.1 145.8 L761.6 145.0 L762.2 144.2 L761.7 143.4 L762.2 142.7 L761.7 141.8 L762.4 141.1 L761.7 140.3 L762.5 139.5 L761.8 138.7 L762.5 137.9 L761.7 137.1 L762.6 136.4 L761.9 135.6 L762.7 134.8 L761.8 134.0 L762.9 133.3 L761.9 132.4 L763.0 131.8 L762.2 130.9 L763.2 130.3 L762.3 129.4 L763.2 128.7 L762.4 127.9 L763.3 127.2 L762.7 126.4 L763.5 125.7 L762.9 124.9 L763.6 124.2 L763.1 123.4 L763.9 122.8 L763.0 121.8 L764.5 121.7 L763.8 120.6 L765.1 120.5 L764.5 119.5 L765.6 119.3 L765.0 118.3 L766.0 118.0 L765.4 117.0 L766.6 116.9 L766.2 115.9 L767.3 115.8 L767.0 114.6 L767.5 114.8 L768.1 115.0 L767.7 115.9 L768.2 116.6 L768.0 117.4 L768.5 118.1 L768.2 119.0 L768.9 119.6 L768.4 120.5 L769.3 121.1 L768.6 122.0 L769.6 122.6 L768.7 123.5 L769.7 124.1 L768.9 125.0 L769.8 125.6 L769.1 126.5 L770.0 127.1 L769.4 128.0 L770.7 128.4 L769.6 130.2 L769.7 128.2 L771.2 128.7 L770.4 127.4 L772.1 127.5 L770.8 126.1 L772.7 125.9 L771.4 124.7 L773.3 124.5 L771.9 123.2 L773.7 123.0 L772.3 121.7 L774.2 121.8 L773.1 120.5 L774.8 120.6 L773.8 119.4 L775.3 119.4 L774.4 118.2 L776.0 118.2 L774.9 116.9 L776.6 117.0 L775.5 115.7 L777.3 115.8 L776.2 114.6 L777.8 114.5 L776.8 113.5 L777.8 113.0 L777.3 112.1 L777.9 111.4 L777.4 110.6 L778.1 109.9 L777.6 109.1 L778.3 108.4 L777.9 107.6 L778.6 106.9 L778.0 106.1 L778.7 105.4 L778.1 104.6 L778.9 103.9 L778.3 103.1 L779.0 102.4 L778.4 101.6 L779.2 100.9 L778.6 100.1 L779.3 99.4 L778.8 98.6 L779.5 97.9 L778.9 97.1 L779.6 96.4 L779.1 95.5 L779.8 94.9 L779.3 94.1 L780.1 93.5 L779.5 92.7 L780.4 92.1 L779.8 91.2 L781.6 91.0 L780.9 88.6 L779.9 90.7 L781.0 91.4 L780.1 92.2 L781.1 92.9 L780.1 93.8 L781.1 94.5 L780.2 95.3 L781.1 96.1 L780.3 96.9 L781.2 97.6 L780.5 98.4 L781.2 99.2 L780.6 100.0 L781.3 100.7 L780.8 101.5 L781.3 102.3 L780.8 103.1 L781.4 103.8 L780.9 104.6 L781.5 105.4 L780.9 106.2 L781.6 107.0 L780.9 107.8 L781.7 108.6 L780.9 109.4 L781.7 110.2 L780.8 111.0 L781.7 111.7 L780.8 112.6 L781.8 113.3 L780.8 114.1 L782.0 114.9 L780.8 115.7 L781.9 116.5 L780.8 117.3 L782.0 118.1 L780.9 118.9 L782.2 119.6 L780.9 120.5 L782.3 121.1 L781.0 122.0 L782.3 122.6 L781.1 123.5 L782.4 124.1 L781.3 125.0 L782.5 125.6 L781.6 126.5 L782.5 127.2 L781.7 128.0 L782.6 128.7 L782.0 129.5 L782.7 130.1 L782.2 131.0 L783.2 131.6 L782.5 132.6 L783.4 133.1 L783.0 134.0 L783.7 134.7 L783.2 135.5 L783.8 136.3 L783.4 137.1 L784.0 137.9 L783.4 138.7 L784.1 139.5 L783.5 140.3 L784.1 141.0 L783.6 141.9 L784.3 142.6 L783.8 143.5 L784.5 144.2 L783.8 145.0 L784.6 145.8 L783.8 146.6 L784.7 147.4 L783.8 148.2 L784.9 148.9 L783.9 149.8 L785.0 150.5 L784.2 151.4 L785.1 152.1 L784.5 152.9 L785.2 153.6 L784.7 154.5 L785.3 155.2 L784.8 156.0 L785.5 156.8 L784.8 157.6 L785.7 158.3 L785.2 160.2 L785.1 158.3 L786.1 157.7 L785.1 156.8 L786.2 156.2 L785.2 155.3 L786.3 154.7 L785.3 153.8 L786.4 153.2 L785.5 152.3 L786.6 151.7 L785.6 150.8 L786.7 150.1 L785.7 149.3 L786.7 148.6 L785.9 147.8 L786.9 147.2 L786.1 146.3 L787.3 145.8 L786.4 144.9 L787.6 144.4 L786.8 143.5 L788.0 143.0 L787.1 142.0 L788.1 141.5 L787.6 140.7 L788.3 140.0 L787.8 139.2 L788.5 138.5 L788.0 137.7 L788.5 137.0 L788.2 136.2 L788.7 135.5 L788.3 134.7 L788.9 134.0 L788.4 133.2 L789.1 132.5 L788.5 131.7 L789.2 131.0 L788.6 130.2 L789.4 129.5 L788.7 128.7 L789.5 128.0 L788.9 127.2 L789.7 126.5 L789.1 125.7 L790.0 125.0 L789.2 124.1 L790.1 123.5 L789.4 122.6 L790.3 122.0 L789.5 121.1 L790.4 120.5 L789.6 119.6 L790.5 119.0 L789.5 118.0 L791.5 118.1 L790.1 116.5 L790.2 117.4 L791.4 117.4 L790.7 118.3 L791.4 119.0 L790.8 119.9 L791.6 120.6 L790.8 121.5 L791.7 122.2 L790.8 123.1 L791.8 123.8 L790.9 124.7 L792.0 125.4 L791.0 126.3 L792.0 127.0 L791.1 127.8 L792.1 128.6 L791.1 129.5 L792.2 130.1 L791.3 131.1 L792.6 131.6 L791.5 132.6 L792.8 133.1 L792.0 134.1 L793.2 134.6 L792.1 135.6 L793.9 136.0 L792.1 137.3 L794.9 137.2 L792.8 138.7 L794.5 139.1 L793.5 140.1 L794.5 140.8 L793.6 141.6 L794.6 142.4 L793.5 143.2 L794.6 144.0 L793.6 144.8 L794.7 145.5 L793.7 146.4 L794.8 147.1 L793.8 147.9 L794.7 148.7 L793.8 149.5 L794.9 150.3 L793.8 151.1 L794.8 151.9 L793.9 152.7 L794.9 153.4 L793.9 154.3 L794.9 155.0 L794.1 155.8 L795.0 156.6 L794.2 157.4 L795.0 158.2 L794.2 159.0 L795.0 159.8 L794.4 160.6 L795.0 161.3 L794.4 162.2 L795.1 162.9 L794.5 163.7 L795.1 164.4 L794.5 165.2 L795.2 165.9 L794.7 166.7 L795.4 167.4 L794.8 168.2 L795.5 168.9 L794.9 169.7 L795.5 170.4 L795.0 171.2 L795.5 171.9 L795.1 172.7 L795.6 173.4 L795.2 174.2 L795.3 174.5 L795.8 174.2 L795.3 173.4 L795.9 172.6 L795.4 171.8 L796.1 171.0 L795.4 170.2 L796.2 169.5 L795.4 168.6 L796.3 167.9 L795.6 167.0 L796.4 166.3 L795.6 165.5 L796.7 164.7 L795.7 163.9 L796.7 163.2 L795.8 162.3 L796.8 161.6 L795.8 160.7 L796.9 160.0 L795.9 159.2 L796.9 158.4 L796.1 157.6 L797.0 156.9 L796.3 156.0 L797.1 155.3 L796.4 154.4 L797.3 153.7 L796.6 152.9 L797.4 152.1 L796.7 151.3 L797.5 150.5 L796.8 149.7 L797.5 148.9 L796.9 148.1 L797.7 147.4 L797.1 146.5 L797.8 145.8 L797.2 144.9 L797.9 144.2 L797.3 143.3 L798.2 142.6 L797.5 141.9 L798.3 141.4 L797.7 140.7 L798.6 140.1 L797.9 139.2 L798.8 138.5 L798.0 137.7 L798.9 137.0 L798.2 136.2 L799.0 135.5 L798.6 134.7 L799.3 134.0 L798.7 133.2 L799.4 132.5 L799.0 131.7 L799.6 131.0 L799.3 130.2 L799.9 129.5 L799.6 128.7 L800.6 128.2 L800.1 126.4 L799.7 128.2 L800.8 128.6 L800.2 129.5 L801.1 130.1 L800.5 131.0 L801.4 131.6 L800.9 132.5 L801.6 133.2 L801.1 134.0 L801.8 134.7 L801.3 135.5 L802.1 136.2 L801.6 137.0 L802.3 137.7 L801.4 138.7 L802.2 138.6 L803.2 138.8 L802.2 137.7 L803.0 137.0 L802.6 136.2 L803.3 135.5 L802.9 134.7 L803.6 134.0 L803.2 133.2 L803.9 132.5 L803.3 131.6 L804.5 131.1 L803.7 130.0 L805.0 129.6 L804.2 128.5 L805.4 128.1 L804.8 127.1 L806.0 126.6 L805.2 125.6 L806.5 125.3 L806.0 123.3 L805.4 125.5 L807.6 125.3 L805.8 126.7 L807.7 127.0 L806.7 128.0 L807.8 128.6 L806.8 129.5 L807.9 130.2 L807.0 131.0 L808.0 131.7 L807.3 132.5 L808.1 133.2 L807.2 134.1 L808.0 133.7 L808.9 134.2 L807.8 133.2 L808.8 132.5 L807.9 131.7 L808.9 131.0 L808.1 130.1 L809.3 129.5 L808.2 128.6 L809.4 128.0 L808.4 127.1 L810.4 126.8 L808.4 125.3 L811.0 125.3 L808.9 123.8 L811.4 123.8 L809.3 122.3 L811.6 122.2 L809.9 120.9 L811.9 120.6 L810.5 119.5 L812.3 119.1 L810.9 118.0 L812.7 117.6 L811.2 116.5 L813.0 116.1 L811.7 115.0 L813.5 114.6 L812.2 113.5 L813.5 113.0 L812.7 112.0 L813.9 111.5 L812.8 110.4 L814.3 110.4 L814.2 108.9 L813.7 110.3 L814.4 110.8 L814.2 111.6 L814.7 112.3 L814.5 113.0 L815.0 113.7 L814.5 114.7 L815.4 114.6 L815.7 115.6 L816.3 113.9 L816.6 115.0 L817.9 114.7 L816.9 116.1 L818.2 116.5 L817.5 117.5 L818.4 118.1 L817.7 119.0 L818.6 119.7 L817.8 120.6 L818.7 121.3 L817.9 122.2 L818.8 122.9 L817.9 123.7 L819.0 124.5 L818.1 125.3 L819.1 126.1 L818.1 126.9 L819.4 127.6 L818.2 128.5 L819.5 129.2 L818.3 130.1 L819.5 130.8 L818.3 131.7 L819.6 132.4 L818.6 133.3 L819.8 134.0 L818.5 134.8 L819.8 135.6 L818.6 136.4 L820.0 137.2 L818.8 138.0 L819.9 138.8 L818.9 139.6 L820.0 140.4 L819.2 141.2 L819.9 142.0 L819.4 142.8 L819.9 143.6 L819.5 144.4 L820.1 145.2 L819.5 146.0 L819.9 145.7 L820.4 146.0 L819.4 145.2 L820.5 144.4 L819.6 143.6 L820.4 142.8 L819.7 142.0 L820.5 141.2 L819.8 140.4 L820.6 139.7 L819.9 138.8 L820.6 138.1 L820.0 137.2 L820.7 136.5 L820.1 135.7 L820.8 134.9 L820.2 134.1 L820.9 133.3 L820.1 132.5 L821.1 131.8 L820.2 130.9 L821.3 130.3 L820.5 129.4 L821.5 128.8 L820.8 127.9 L821.8 127.3 L821.1 126.4 L822.0 125.8 L821.0 124.8 L822.7 124.5 L821.1 123.1 L823.5 123.6 L822.0 121.8 L823.8 122.4 L823.5 120.2 L823.5 122.6 L825.3 121.6 L823.9 123.1 L825.9 123.1 L824.7 124.3 L825.8 124.8 L824.9 125.8 L826.1 126.3 L825.2 127.3 L826.4 127.8 L825.4 128.8 L826.8 129.4 L825.8 130.3 L827.0 130.9 L825.8 131.8 L827.2 132.4 L825.9 133.3 L827.2 133.9 L826.2 134.8 L827.5 135.4 L826.3 136.3 L827.7 136.9 L826.4 137.8 L827.8 138.4 L826.6 139.3 L828.0 139.9 L826.9 140.8 L827.9 141.4 L827.0 142.3 L828.0 143.0 L827.2 143.8 L828.1 144.5 L827.5 145.3 L828.3 146.0 L827.6 146.8 L828.5 147.5 L827.7 148.3 L828.7 149.0 L827.9 149.8 L828.8 150.5 L827.9 151.3 L829.0 151.9 L828.9 153.9 L828.2 151.9 L829.2 151.2 L828.1 150.4 L829.3 149.7 L828.3 148.8 L829.6 148.1 L828.4 147.2 L829.7 146.5 L828.4 145.6 L829.7 144.9 L828.5 144.0 L830.0 143.3 L828.8 142.5 L829.9 141.7 L829.0 140.9 L829.9 140.1 L829.1 139.3 L830.0 138.6 L829.2 137.7 L830.1 137.0 L829.6 136.2 L830.5 135.5 L829.9 134.7 L830.7 134.0 L830.2 133.2 L831.0 132.5 L830.6 131.7 L831.4 131.1 L830.5 130.0 L832.0 129.9 L831.1 128.7 L832.6 129.1 L832.8 127.0 L831.2 129.1 L833.0 129.4 L832.1 130.3 L833.3 130.9 L832.2 131.8 L833.5 132.4 L832.4 133.3 L833.6 133.9 L832.7 134.8 L833.9 135.4 L832.9 136.3 L834.1 136.9 L832.9 137.8 L834.3 138.4 L832.7 139.5 L833.9 138.6 L835.2 139.7 L833.7 138.4 L834.8 137.8 L834.1 136.9 L835.1 136.3 L834.5 135.4 L835.4 134.8 L834.9 133.9 L835.7 133.3 L835.2 132.4 L835.8 131.7 L835.4 130.9 L836.0 130.2 L835.6 129.4 L836.3 128.7 L835.7 127.9 L836.5 127.2 L835.8 126.4 L836.8 125.7 L835.9 124.9 L837.1 124.3 L836.2 123.4 L837.2 122.7 L836.5 121.9 L837.3 121.2 L836.8 120.4 L837.6 119.7 L837.0 118.9 L837.7 118.2 L837.2 117.4 L838.2 116.8 L837.1 115.7 L838.9 115.6 L837.7 114.1 L838.9 114.7 L839.4 113.6 L839.0 115.3 L840.8 114.8 L839.7 116.2 L841.1 116.5 L840.2 117.6 L841.6 118.0 L840.6 119.1 L842.1 119.4 L840.8 120.7 L842.9 120.8 L841.0 122.3 L843.4 122.3 L841.7 123.7 L843.9 123.9 L842.2 125.1 L843.9 125.6 L842.7 126.6 L844.1 127.1 L843.1 128.1 L844.3 128.6 L843.3 129.6 L844.7 130.1 L843.6 131.0 L844.7 131.7 L843.9 132.5 L845.0 133.1 L844.1 134.0 L845.2 134.7 L844.3 135.5 L845.3 136.2 L844.0 137.3 L846.2 137.2 L844.8 138.8 L847.1 138.1 L845.8 139.6 L847.2 139.9 L846.4 140.8 L847.3 141.5 L846.4 142.3 L847.3 143.0 L846.4 143.8 L847.5 144.5 L846.6 145.3 L847.7 146.0 L846.6 146.8 L847.8 147.5 L846.8 148.3 L847.7 149.0 L847.0 149.8 L847.9 150.5 L847.1 151.4 L847.9 152.1 L847.3 152.9 L848.1 153.6 L847.3 154.5 L848.3 155.2 L847.3 156.0 L848.5 156.7 L847.4 157.6 L848.6 158.3 L847.4 159.1 L848.8 159.8 L847.9 162.0 L847.8 159.8 L848.7 159.2 L848.0 158.3 L848.8 157.7 L848.1 156.8 L849.0 156.2 L848.3 155.3 L849.2 154.7 L848.4 153.8 L849.3 153.2 L848.5 152.3 L849.7 151.7 L848.3 150.7 L850.7 150.7 L848.5 148.9 L850.6 150.1 L850.1 147.2 L851.0 150.2 L852.1 147.9 L852.8 150.4 L852.8 147.7 L854.5 149.6 L853.9 147.3 L855.2 148.9 L855.6 146.9 L856.2 148.7 L857.9 147.1 L856.3 149.0 L857.6 149.3 L856.9 150.1 L857.7 150.8 L857.1 151.6 L857.8 152.3 L857.2 153.1 L857.8 153.9 L857.3 154.6 L857.9 155.4 L857.4 156.1 L858.0 156.9 L857.5 157.6 L858.2 158.4 L857.5 159.2 L858.3 159.8 L858.4 161.8 L857.5 159.8 L858.5 159.1 L857.6 158.2 L858.7 157.5 L857.8 156.6 L858.8 155.9 L857.9 155.0 L859.0 154.3 L858.1 153.4 L859.3 152.7 L858.3 151.8 L859.4 151.1 L858.4 150.2 L859.5 149.5 L858.5 148.6 L859.7 148.0 L858.6 147.0 L859.9 146.5 L858.5 145.3 L860.7 145.1 L859.2 143.9 L861.2 143.6 L859.5 142.4 L861.4 142.1 L859.8 140.7 L861.9 140.9 L860.6 139.0 L862.6 140.4 L862.9 137.7 L862.3 140.3 L864.2 139.6 L862.7 141.1 L865.0 140.8 L863.2 142.1 L864.8 142.5 L864.1 143.4 L865.0 144.0 L864.4 144.9 L865.2 145.5 L864.6 146.4 L865.5 147.0 L864.8 147.9 L865.7 148.5 L865.0 149.4 L865.9 150.1 L865.1 150.9 L866.1 151.6 L865.2 152.4 L866.2 153.1 L865.2 153.9 L866.4 154.6 L865.4 155.4 L866.5 156.1 L865.4 156.9 L866.8 157.5 L866.2 159.6 L865.7 157.5 L866.9 156.9 L865.9 156.1 L867.0 155.4 L865.9 154.6 L867.1 153.9 L866.2 153.1 L867.3 152.4 L866.3 151.6 L867.3 150.9 L866.5 150.1 L867.4 149.4 L866.7 148.6 L867.4 147.9 L866.8 147.1 L867.5 146.4 L867.3 144.7 L866.9 146.4 L867.8 147.0 L867.2 147.9 L868.0 148.6 L867.4 149.4 L868.1 150.1 L867.7 150.9 L868.4 151.6 L867.8 152.4 L868.5 153.1 L867.9 153.9 L869.4 154.3 L867.8 155.8 L869.7 154.9 L869.4 157.0 L869.7 155.2 L871.1 156.3 L870.4 154.3 L872.2 155.0 L871.6 153.3 L873.3 153.9 L872.9 152.1 L873.5 152.9 L874.4 152.9 L873.6 153.9 L874.2 154.6 L873.6 155.4 L874.4 156.1 L873.5 156.9 L874.7 157.6 L873.8 158.4 L874.7 159.1 L873.9 159.9 L874.8 160.6 L874.1 161.5 L874.5 161.4 L874.9 161.5 L874.4 160.6 L875.0 159.9 L874.7 159.1 L875.2 158.4 L874.8 157.6 L875.4 156.9 L874.9 156.1 L875.6 155.4 L875.1 154.6 L875.8 153.9 L875.3 153.1 L876.5 152.6 L875.2 151.4 L877.0 151.4 L875.9 150.1 L877.6 150.2 L876.6 148.7 L877.8 149.1 L878.1 148.1 L878.1 149.6 L879.6 148.9 L878.7 150.4 L880.0 150.7 L879.3 151.7 L880.3 152.2 L879.7 153.2 L880.8 153.7 L880.0 154.8 L881.1 155.3 L880.4 156.3 L881.6 156.7 L880.8 157.8 L882.1 158.2 L881.0 159.3 L882.6 159.7 L880.7 161.0 L883.7 160.9 L881.2 162.6 L884.0 162.5 L881.4 164.2 L884.4 164.1 L882.7 165.4 L884.3 165.8 L883.2 166.8 L884.5 167.3 L883.7 168.3 L884.7 168.8 L884.0 169.8 L885.0 170.3 L884.3 171.3 L885.5 171.8 L884.6 172.8 L885.7 173.3 L884.8 174.3 L886.1 174.8 L885.1 175.8 L886.4 176.3 L885.4 177.3 L886.6 177.8 L885.5 178.8 L886.9 179.3 L885.2 180.7 L886.4 179.4 L888.3 180.8 L886.3 179.3 L887.9 178.8 L886.6 177.7 L888.1 177.2 L886.9 176.1 L888.4 175.6 L887.3 174.6 L888.5 174.0 L887.9 173.1 L888.7 172.5 L888.1 171.6 L889.1 171.0 L888.3 170.1 L889.4 169.5 L888.5 168.6 L889.9 168.0 L888.6 167.0 L890.1 166.5 L888.9 165.5 L890.2 165.0 L889.2 164.0 L890.4 163.5 L889.6 162.5 L890.7 162.0 L889.9 161.0 L890.9 160.4 L890.3 159.5 L891.3 159.0 L890.6 158.0 L891.5 157.4 L890.9 156.5 L891.9 156.0 L890.9 154.9 L892.7 154.6 L890.7 153.2 L893.5 153.3 L891.2 151.6 L894.2 151.8 L891.6 150.1 L894.6 150.3 L892.0 148.6 L895.1 148.7 L892.9 147.3 L895.4 147.2 L893.2 145.7 L895.8 145.7 L893.5 144.0 L896.3 144.4 L894.3 142.6 L896.6 144.2 L896.3 141.2 L896.1 143.7 L898.2 142.6 L896.8 144.7 L898.8 143.8 L898.0 145.7 L899.7 144.6 L899.0 146.6 L901.2 145.3 L899.8 147.2 L901.8 146.8 L900.4 148.3 L902.3 148.2 L901.2 149.2 L902.2 149.8 L901.4 150.7 L902.4 151.4 L901.5 152.2 L902.4 153.0 L901.5 153.8 L902.6 154.5 L901.6 155.3 L902.7 156.1 L901.4 156.9 L902.7 157.6 L901.6 158.5 L902.7 159.2 L901.7 160.0 L902.9 160.8 L901.8 161.6 L902.9 162.3 L901.7 163.2 L903.0 163.9 L901.8 164.7 L902.9 165.5 L901.9 166.3 L903.0 167.0 L902.0 167.8 L903.1 168.6 L902.1 169.4 L902.9 169.0 L903.2 169.5 L902.3 168.6 L903.3 167.9 L902.3 167.1 L903.4 166.4 L902.5 165.6 L903.6 164.9 L902.8 164.1 L903.7 163.4 L903.0 162.6 L903.7 161.9 L903.1 161.1 L903.9 160.4 L903.4 159.6 L904.0 158.9 L903.6 158.1 L904.2 157.4 L903.9 156.6 L904.6 155.9 L904.2 155.1 L904.8 154.4 L904.5 153.5 L905.2 152.9 L904.6 151.9 L905.2 151.9 L905.8 152.0 L905.2 152.9 L905.8 153.7 L905.3 154.5 L905.9 155.3 L905.4 156.1 L906.1 156.8 L905.6 157.7 L906.2 158.4 L905.7 159.3 L906.4 160.0 L905.9 160.8 L906.6 161.6 L906.0 162.4 L906.7 163.2 L906.2 164.0 L906.9 164.7 L906.4 165.6 L907.1 166.3 L906.6 168.0 L906.4 166.3 L907.3 165.7 L906.7 164.8 L907.5 164.2 L906.8 163.3 L907.7 162.7 L907.1 161.8 L907.9 161.2 L907.2 160.3 L908.0 159.7 L907.3 158.8 L908.2 158.1 L907.6 157.3 L908.2 156.6 L907.8 155.8 L908.2 155.1 L907.9 154.3 L908.4 153.6 L907.9 152.8 L908.5 152.1 L908.0 151.3 L908.5 150.6 L908.1 149.8 L908.7 149.1 L908.1 148.3 L908.9 147.6 L908.2 146.8 L909.0 146.1 L908.4 145.2 L909.6 144.7 L908.6 143.7 L910.2 143.3 L908.8 141.8 L910.1 142.8 L910.8 141.3 L909.5 143.4 L911.7 142.9 L910.5 144.3 L912.4 144.3 L911.3 145.4 L912.1 146.0 L911.6 146.9 L912.2 147.5 L911.8 148.4 L912.4 149.1 L912.0 149.9 L912.6 150.6 L912.1 151.4 L912.7 152.1 L912.3 152.9 L912.9 153.6 L911.9 154.7 L913.4 154.2 L912.8 155.7 L914.4 153.4 L912.6 155.7 L914.5 155.8 L913.5 156.7 L914.7 157.3 L913.8 158.2 L914.8 158.8 L914.0 159.7 L914.8 160.3 L914.4 161.1 L914.9 161.9 L914.5 162.7 L915.2 163.3 L914.4 164.2 L915.4 164.9 L914.4 165.8 L915.5 166.5 L914.6 167.4 L915.7 168.1 L914.8 168.9 L915.7 169.7 L914.9 170.5 L915.8 171.3 L915.1 172.1 L915.8 172.9 L915.3 173.7 L915.9 174.5 L915.3 175.3 L916.0 176.1 L915.4 176.9 L916.1 177.7 L915.5 178.5 L916.3 179.2 L915.5 180.0 L916.3 180.7 L915.6 181.5 L916.4 182.2 L915.8 183.0 L916.4 183.7 L915.9 184.5 L916.6 185.2 L915.9 186.0 L916.6 186.7 L916.0 187.5 L916.7 188.2 L916.0 189.0 L916.8 189.7 L916.1 190.5 L916.8 191.3 L916.2 192.1 L917.0 192.9 L916.3 193.7 L917.2 194.4 L916.3 195.3 L917.3 196.0 L916.4 196.9 L917.4 197.6 L916.4 198.5 L917.5 199.2 L916.5 200.1 L917.5 200.8 L916.6 201.6 L917.7 202.4 L916.8 203.2 L917.7 203.9 L917.3 205.7 L916.9 203.9 L917.7 203.2 L917.0 202.4 L918.0 201.6 L917.1 200.8 L918.1 200.1 L917.0 199.2 L918.1 198.5 L917.0 197.7 L918.1 196.9 L917.1 196.1 L918.1 195.3 L917.3 194.5 L918.2 193.8 L917.3 192.9 L918.3 192.2 L917.5 191.4 L918.2 190.6 L917.5 189.8 L918.4 189.0 L917.5 188.2 L918.5 187.5 L917.5 186.7 L918.5 186.0 L917.7 185.2 L918.8 184.5 L917.8 183.7 L918.8 183.0 L917.9 182.1 L919.0 181.5 L918.1 180.7 L919.0 180.0 L918.3 179.1 L919.7 178.8 L918.2 176.9 L919.4 178.9 L920.6 177.5 L919.9 179.0 L921.7 178.8 L920.6 180.0 L921.4 180.6 L920.9 181.5 L921.7 182.1 L921.1 183.0 L921.9 183.6 L921.3 184.5 L922.2 185.2 L921.5 186.0 L922.3 186.7 L921.7 187.5 L922.4 188.2 L921.9 189.0 L922.5 189.7 L922.1 190.5 L922.6 191.2 L922.2 192.0 L922.7 192.7 L922.3 193.5 L922.9 194.2 L922.5 195.0 L923.0 195.7 L922.6 196.5 L923.1 197.2 L922.7 198.0 L923.4 198.7 L922.9 199.6 L923.6 200.2 L923.1 201.1 L923.9 201.7 L923.1 202.6 L924.2 203.2 L923.4 204.1 L924.3 204.7 L923.8 205.6 L924.6 206.2 L924.2 207.1 L925.1 207.6 L924.6 209.1 L924.9 207.5 L925.9 208.2 L926.2 206.5 L925.2 208.2 L926.5 208.5 L925.8 209.4 L926.8 210.0 L926.1 210.9 L927.0 211.5 L926.3 212.4 L927.2 213.1 L926.5 213.9 L927.5 214.6 L926.7 215.4 L927.6 216.1 L927.0 216.9 L927.9 217.6 L927.0 218.4 L928.0 219.1 L927.3 219.9 L928.3 220.6 L927.4 221.5 L928.6 222.1 L927.5 223.0 L928.7 223.6 L927.7 224.5 L928.7 225.1 L928.0 226.0 L929.1 226.6 L928.3 227.5 L929.3 228.1 L928.4 229.0 L929.7 229.6 L928.6 230.5 L929.8 231.1 L928.9 232.1 L930.6 232.5 L929.1 233.6 L930.7 234.0 L928.6 235.6 L930.2 234.4 L931.0 235.0 L930.0 234.1 L931.0 233.4 L930.0 232.5 L931.1 231.8 L930.1 231.0 L931.1 230.2 L930.3 229.4 L931.3 228.6 L930.4 227.8 L931.3 227.1 L930.3 226.2 L931.5 225.5 L930.5 224.7 L931.6 223.9 L930.6 223.1 L931.5 222.4 L930.7 221.5 L931.5 220.8 L930.9 220.0 L931.6 219.2 L931.0 218.4 L931.7 217.6 L930.9 216.8 L931.8 216.1 L931.0 215.2 L931.9 214.5 L930.9 213.6 L932.1 212.9 L931.0 212.1 L932.1 211.3 L931.0 210.5 L932.1 209.7 L931.1 208.9 L932.1 208.1 L931.2 207.3 L932.3 206.6 L931.3 205.7 L932.4 205.0 L931.4 204.1 L932.4 203.4 L931.5 202.5 L932.4 201.9 L931.8 201.0 L932.6 200.4 L931.9 199.5 L932.8 198.9 L932.1 198.0 L932.9 197.3 L932.5 196.5 L933.1 195.8 L932.7 195.0 L933.2 194.3 L932.9 193.5 L933.5 192.8 L933.0 191.9 L933.8 191.2 L933.3 190.4 L934.0 189.7 L933.5 188.8 L934.3 188.1 L933.8 187.2 L934.7 186.7 L934.1 185.1 L933.9 186.6 L934.8 187.1 L934.5 187.9 L935.0 188.5 L934.7 189.3 L935.3 189.9 L934.9 190.7 L935.5 191.3 L935.1 192.1 L935.7 192.8 L935.2 193.6 L935.8 194.3 L935.4 195.1 L936.0 195.8 L935.4 196.6 L936.2 197.3 L935.5 198.1 L936.3 198.8 L935.6 199.6 L936.5 200.3 L935.6 201.1 L936.9 201.7 L935.9 202.7 L937.2 203.2 L936.1 204.2 L937.7 204.7 L936.5 205.7 L938.0 206.2 L936.5 207.3 L938.5 207.6 L936.7 208.9 L939.3 209.0 L937.3 210.4 L939.4 210.6 L937.6 211.9 L939.5 212.2 L938.4 213.3 L939.8 213.7 L938.8 214.8 L940.1 215.2 L939.4 216.2 L940.2 216.8 L939.6 217.7 L940.5 218.3 L939.8 219.2 L940.8 219.8 L939.8 220.7 L941.0 221.3 L939.9 222.2 L941.2 222.8 L940.1 223.7 L941.4 224.3 L940.4 225.2 L941.6 225.8 L940.7 226.7 L941.6 227.4 L940.9 228.2 L941.9 228.9 L941.1 229.7 L941.9 230.4 L941.2 231.2 L942.0 231.9 L941.4 232.7 L942.2 233.4 L941.6 234.2 L942.4 234.9 L941.8 235.7 L942.6 236.4 L941.9 237.2 L942.6 237.9 L942.1 238.7 L942.7 239.4 L942.0 240.2 L943.0 240.9 L942.1 241.7 L943.1 242.4 L942.2 243.3 L943.4 243.9 L942.2 244.8 L943.4 245.4 L943.3 247.3 L942.4 245.3 L943.5 244.7 L942.7 243.8 L943.4 243.1 L943.0 242.2 L943.5 241.5 L943.1 240.6 L943.6 239.9 L943.3 239.0 L943.7 238.3 L943.4 237.4 L943.9 236.7 L943.5 235.9 L944.0 235.1 L943.6 234.3 L944.1 233.5 L944.0 232.2 L943.7 233.5 L944.3 234.3 L943.8 235.1 L944.5 235.8 L943.9 236.7 L944.6 237.4 L944.0 238.3 L944.6 239.0 L944.1 239.9 L944.8 240.6 L944.2 241.5 L945.0 242.2 L944.1 243.1 L945.1 243.8 L944.3 244.7 L945.3 245.4 L944.2 246.3 L945.5 246.9 L944.3 247.8 L945.6 248.4 L944.6 249.3 L945.8 249.9 L944.7 250.8 L945.9 251.4 L944.9 252.3 L946.0 253.0 L945.0 253.8 L946.1 254.5 L945.2 255.3 L946.1 256.0 L945.3 256.8 L946.2 257.5 L945.5 258.3 L946.3 259.1 L945.3 259.8 L946.2 260.7 L945.2 261.4 L946.1 262.2 L945.2 263.0 L946.0 263.8 L945.1 264.6 L946.0 265.4 L945.0 266.1 L945.8 267.0 L945.0 267.7 L945.6 268.5 L944.9 269.3 L945.5 270.1 L945.1 270.9 L946.0 271.5 L945.3 272.5 L946.3 273.0 L945.8 274.0 L946.6 274.5 L945.9 275.5 L947.2 275.9 L946.5 277.0 L947.9 277.0 L947.1 278.3 L948.7 277.9 L948.7 280.0 L948.0 278.1 L948.9 277.7 L948.5 276.8 L949.1 276.2 L948.8 275.3 L949.3 274.6 L949.0 273.8 L949.5 273.1 L949.2 272.3 L949.6 271.6 L949.4 270.8 L949.8 270.1 L949.6 269.3 L950.1 268.6 L949.6 267.8 L950.3 267.1 L949.6 266.3 L950.6 265.6 L949.8 264.8 L950.7 264.1 L949.9 263.3 L950.9 262.6 L950.0 261.8 L951.1 261.1 L950.2 260.3 L951.1 259.6 L950.4 258.8 L951.2 258.1 L950.5 257.2 L951.5 256.6 L950.8 255.7 L951.7 255.1 L951.0 254.2 L952.0 253.6 L951.1 252.7 L953.2 252.5 L951.9 249.8 L950.8 252.5 L952.9 252.7 L951.8 253.7 L953.0 254.2 L952.2 255.1 L953.2 255.7 L952.5 256.6 L953.4 257.3 L952.7 258.2 L953.4 258.9 L952.8 259.7 L953.5 260.5 L952.9 261.3 L953.6 262.1 L953.0 262.9 L953.7 263.6 L953.0 264.5 L953.8 265.2 L953.1 266.0 L954.0 266.8 L953.2 267.6 L954.0 268.4 L953.2 269.2 L954.1 269.9 L953.4 270.8 L954.1 271.5 L953.5 272.3 L954.3 273.1 L953.6 273.9 L954.3 274.7 L953.6 275.5 L954.4 276.3 L953.5 277.1 L954.5 277.8 L953.6 278.7 L954.7 279.4 L953.6 280.2 L954.7 281.0 L953.6 281.8 L954.8 282.6 L953.6 283.4 L954.9 284.1 L953.7 285.0 L954.8 285.7 L953.8 286.5 L955.0 287.3 L953.9 288.1 L955.1 288.9 L953.9 289.7 L955.1 290.4 L954.0 291.3 L955.2 292.0 L954.1 292.9 L955.2 293.6 L954.2 294.5 L955.4 295.2 L954.2 296.1 L955.5 296.8 L954.5 297.7 L955.6 298.4 L954.5 299.3 L955.8 300.0 L954.6 300.9 L955.8 301.6 L954.8 302.5 L955.9 303.2 L955.0 304.0 L955.9 304.7 L955.2 305.5 L955.9 306.2 L955.4 307.0 L955.9 307.7 L955.5 308.5 L956.0 309.2 L955.7 310.0 L956.1 310.7 L955.7 311.5 L955.8 311.8 L956.2 311.5 L955.9 310.6 L956.3 309.9 L956.0 309.0 L956.5 308.3 L956.1 307.5 L956.6 306.7 L956.1 305.9 L956.7 305.1 L956.3 304.3 L956.8 303.5 L956.3 302.7 L957.0 301.9 L956.4 301.1 L957.1 300.3 L956.4 299.5 L957.3 298.7 L956.5 297.9 L957.4 297.1 L956.7 296.3 L957.7 295.6 L956.8 294.7 L957.7 294.0 L956.8 293.1 L958.1 292.4 L956.9 291.5 L958.0 290.8 L957.0 289.9 L958.2 289.2 L957.2 288.3 L958.3 287.6 L957.5 286.7 L958.4 286.1 L957.8 284.3 L957.3 286.3 L958.7 286.6 L958.1 287.5 L959.1 288.1 L958.4 289.1 L959.6 289.5 L958.4 290.9 L959.5 289.8 L960.8 291.0 L958.9 289.4 L960.9 289.1 L959.5 288.0 L961.1 287.6 L959.8 286.5 L961.8 286.3 L961.0 284.2 L960.5 286.0 L961.4 286.6 L961.0 287.4 L961.5 288.1 L961.0 288.9 L961.7 289.6 L961.1 290.5 L962.0 291.1 L961.0 292.0 L962.2 292.6 L961.1 293.5 L962.4 294.1 L961.3 295.0 L962.5 295.6 L960.8 296.8 L962.8 296.1 L963.1 297.7 L961.8 295.9 L963.6 295.9 L962.7 294.8 L963.3 294.1 L962.9 293.3 L963.4 292.5 L962.9 291.7 L963.7 290.9 L963.0 290.1 L963.7 289.3 L963.1 288.5 L964.0 287.8 L963.1 286.9 L964.1 286.2 L963.3 285.3 L964.3 284.6 L963.4 283.7 L964.4 283.0 L963.5 282.1 L964.5 281.4 L963.8 280.6 L964.7 279.9 L964.0 279.1 L964.7 278.4 L964.2 277.6 L964.9 276.9 L964.4 276.1 L965.1 275.4 L964.6 274.6 L965.2 273.9 L964.8 273.1 L965.3 272.4 L965.0 271.6 L965.5 270.9 L965.1 270.1 L965.7 269.4 L965.3 268.6 L965.9 267.9 L965.4 267.1 L966.2 266.4 L965.5 265.5 L966.3 264.9 L965.6 264.0 L966.6 263.4 L965.8 262.5 L967.0 261.9 L966.0 261.0 L967.1 260.4 L966.3 259.5 L967.5 258.9 L966.5 257.9 L967.8 257.4 L966.9 256.5 L968.3 255.9 L967.2 255.0 L968.4 254.4 L967.3 253.5 L968.5 252.9 L967.6 252.0 L968.8 251.4 L967.9 250.6 L969.0 250.0 L968.1 249.1 L969.2 248.5 L968.4 247.6 L969.2 247.0 L968.7 246.2 L969.4 245.5 L969.0 244.7 L969.6 244.0 L969.4 243.2 L969.9 242.5 L969.6 241.7 L970.3 241.0 L969.9 240.2 L970.7 239.5 L970.0 238.6 L971.2 238.1 L969.7 236.9 L972.3 237.0 L970.1 235.5 L972.8 235.8 L970.5 234.2 L973.1 234.9 L972.7 231.9 L971.2 234.6 L973.1 234.8 L972.1 235.8 L973.4 236.3 L972.2 237.3 L973.6 237.8 L972.6 238.8 L973.9 239.4 L972.9 240.3 L974.0 240.9 L973.1 241.8 L974.2 242.4 L973.5 243.3 L974.4 243.9 L973.6 244.8 L974.6 245.4 L973.9 246.3 L974.9 246.9 L974.1 247.8 L975.2 248.4 L974.3 249.3 L975.4 249.9 L974.5 250.8 L975.7 251.4 L974.8 252.3 L976.0 252.9 L975.0 253.8 L976.1 254.4 L975.4 255.3 L976.4 255.9 L975.7 256.8 L976.6 257.4 L975.9 258.3 L976.8 259.0 L976.2 259.8 L977.0 260.5 L976.1 260.8 L975.7 261.3 L977.3 259.4 L976.8 260.4 L975.7 260.3 L976.7 261.0 L975.7 261.9 L976.9 262.5 L975.7 263.4 L977.1 264.0 L976.1 264.9 L977.1 265.5 L976.1 266.4 L977.3 267.0 L976.4 267.9 L977.3 268.6 L976.5 269.4 L977.1 269.1 L977.4 269.4 L976.9 268.6 L977.6 267.9 L977.1 267.1 L977.6 266.4 L977.3 265.6 L977.8 264.9 L977.4 264.1 L978.0 263.4 L977.5 262.5 L978.3 261.9 L978.0 260.1 L977.7 261.9 L978.6 262.5 L977.6 263.4 L978.7 264.0 L977.8 264.9 L979.0 265.5 L977.8 266.4 L979.0 267.0 L978.0 267.9 L979.1 268.6 L978.2 269.4 L979.2 270.1 L978.3 270.9 L979.3 271.6 L978.5 272.4 L979.5 273.1 L978.8 273.9 L979.7 274.5 L978.9 275.4 L980.0 276.0 L979.1 276.9 L980.1 277.6 L979.2 278.5 L980.4 279.1 L979.3 280.0 L980.7 280.5 L979.5 281.6 L981.6 281.9 L979.6 283.2 L981.9 283.4 L980.4 284.6 L981.9 285.0 L980.7 286.0 L982.0 286.6 L980.9 287.5 L982.1 288.1 L981.2 289.0 L982.3 289.6 L981.5 290.5 L982.4 291.1 L981.8 292.0 L982.4 292.7 L982.0 293.5 L982.5 294.2 L982.1 295.0 L982.8 295.7 L982.3 296.5 L983.0 297.2 L982.4 298.0 L983.1 298.7 L982.5 299.5 L983.3 300.2 L982.6 301.0 L983.5 301.7 L982.7 302.5 L983.7 303.2 L982.9 304.0 L983.9 304.7 L983.0 305.5 L984.0 306.2 L983.2 307.0 L984.4 307.6 L983.4 308.6 L984.6 309.1 L983.5 310.1 L984.8 310.7 L983.7 311.6 L985.0 312.2 L983.0 313.6 L985.7 312.9 L984.3 315.4 L986.2 312.8 L986.5 315.9 L986.7 312.8 L988.5 315.0 L987.0 313.1 L989.7 313.5 L987.6 312.2 L988.9 311.6 L987.8 310.7 L989.1 310.1 L988.1 309.2 L989.2 308.5 L988.2 307.7 L989.3 307.0 L988.5 306.2 L989.6 305.5 L988.6 304.7 L989.8 304.0 L988.7 303.2 L989.9 302.5 L989.0 301.7 L990.0 301.0 L989.2 300.2 L990.1 299.5 L989.2 298.6 L990.3 298.0 L989.5 297.2 L990.3 296.5 L989.6 295.7 L990.5 294.9 L989.8 294.1 L990.6 293.3 L989.8 292.5 L990.6 291.8 L990.0 290.9 L990.7 290.2 L990.1 289.3 L990.8 288.6 L990.2 287.8 L990.9 287.0 L990.2 286.2 L991.1 285.4 L990.3 284.6 L991.2 283.8 L990.1 283.0 L991.5 282.3 L990.4 281.4 L991.5 280.7 L990.6 279.9 L991.5 279.2 L990.6 278.3 L991.5 277.7 L990.8 276.8 L991.7 276.2 L990.9 275.3 L991.9 274.7 L991.1 273.8 L992.1 273.2 L991.1 272.3 L992.2 271.7 L991.2 270.7 L991.8 271.4 L993.1 270.5 L991.4 271.7 L992.7 272.3 L991.6 273.2 L992.9 273.8 L992.1 274.7 L993.1 275.3 L992.4 276.2 L993.4 276.8 L992.7 277.7 L993.4 278.3 L992.8 279.2 L993.5 279.9 L993.0 280.7 L993.8 281.4 L993.1 282.2 L993.9 282.9 L993.2 283.7 L994.0 284.4 L993.4 285.2 L994.2 285.9 L993.5 286.7 L994.4 287.4 L993.6 288.2 L994.1 287.6 L994.6 288.2 L993.7 287.4 L994.8 286.7 L993.9 285.9 L995.0 285.2 L994.0 284.3 L995.1 283.7 L994.2 282.8 L995.2 282.2 L994.4 281.3 L995.4 280.7 L994.7 279.9 L995.5 279.2 L994.8 278.3 L995.6 277.6 L994.9 276.8 L995.8 276.0 L995.0 275.2 L995.9 274.5 L995.0 273.6 L996.1 272.9 L995.1 272.0 L996.1 271.3 L995.3 270.5 L996.1 269.7 L995.4 268.9 L996.2 268.2 L995.6 267.3 L996.3 266.6 L995.7 265.8 L996.4 265.0 L995.8 264.2 L996.6 263.5 L995.8 262.6 L996.8 261.9 L995.9 261.0 L997.2 260.5 L995.8 259.2 L998.0 259.1 L996.6 257.8 L998.4 257.6 L997.2 256.2 L998.9 256.4 L998.0 255.0 L999.5 255.2 L998.7 254.0 L1000.4 253.9 L999.1 252.6 L1000.9 252.3 L999.6 251.0 L1001.5 250.9 L1000.0 249.6 L1002.0 249.8 L1000.6 248.2 L1001.2 249.2 L1002.7 248.7 L1001.3 249.9 L1002.5 250.5 L1001.4 251.4 L1002.8 251.9 L1001.7 252.9 L1002.9 253.5 L1001.3 254.8 L1003.9 253.8 L1002.0 256.2 L1005.0 254.0 L1002.5 256.4 L1004.7 256.5 L1003.6 257.4 L1004.9 258.0 L1003.9 258.9 L1005.2 259.5 L1004.1 260.4 L1005.4 261.0 L1004.5 261.9 L1005.5 262.5 L1004.8 263.4 L1005.7 264.0 L1004.9 264.9 L1005.9 265.5 L1005.2 266.4 L1006.2 267.0 L1005.3 267.9 L1006.5 268.5 L1005.5 269.4 L1006.7 270.0 L1005.8 270.9 L1006.8 271.5 L1006.2 272.4 L1006.9 273.1 L1006.5 273.9 L1007.2 274.6 L1006.7 275.4 L1007.5 276.1 L1006.9 277.0 L1007.9 277.5 L1007.2 278.5 L1008.2 279.1 L1006.8 280.4 L1008.1 279.4 L1009.3 280.4 L1007.5 278.9 L1009.6 278.6 L1008.0 277.4 L1009.9 277.1 L1008.3 275.9 L1010.1 275.5 L1009.0 274.5 L1010.3 274.0 L1009.5 273.0 L1010.4 272.4 L1009.8 271.5 L1010.7 270.9 L1010.1 270.0 L1011.0 269.4 L1010.5 268.5 L1011.1 267.9 L1010.9 267.1 L1011.4 266.4 L1011.2 265.6 L1011.7 264.9 L1011.5 264.0 L1012.0 263.4 L1011.8 262.5 L1012.3 261.9 L1012.1 261.0 L1012.6 260.4 L1012.4 259.5 L1013.0 258.9 L1012.7 258.0 L1013.4 257.4 L1013.0 256.5 L1014.0 256.0 L1013.6 254.5 L1013.2 256.0 L1014.1 256.5 L1013.6 257.3 L1014.3 258.0 L1013.8 258.8 L1014.5 259.5 L1014.0 260.3 L1014.6 261.0 L1014.1 261.9 L1014.8 262.5 L1014.3 263.4 L1014.7 263.4 L1015.0 263.4 L1014.5 262.6 L1015.2 261.9 L1014.7 261.1 L1015.3 260.3 L1014.8 259.5 L1015.4 258.8 L1014.8 258.0 L1015.6 257.3 L1014.9 256.5 L1015.7 255.8 L1015.1 255.0 L1016.0 254.3 L1015.1 253.5 L1016.0 252.7 L1015.0 252.0 L1015.9 251.1 L1015.0 250.4 L1015.8 249.6 L1015.0 248.8 L1015.8 248.0 L1015.0 247.2 L1015.7 246.4 L1014.9 245.6 L1015.6 244.8 L1014.8 244.0 L1015.5 243.2 L1014.8 242.4 L1015.9 241.8 L1014.9 240.9 L1016.1 240.3 L1015.1 239.4 L1016.5 238.8 L1015.4 237.9 L1016.6 237.3 L1015.5 236.4 L1016.8 235.8 L1015.8 234.9 L1016.9 234.3 L1016.0 233.3 L1017.1 232.8 L1016.3 231.8 L1017.6 231.3 L1016.6 230.3 L1018.0 229.8 L1017.0 228.8 L1018.3 228.3 L1016.8 226.8 L1018.5 227.7 L1019.2 226.2 L1017.7 228.6 L1020.3 227.8 L1018.6 229.4 L1021.1 229.2 L1019.3 230.7 L1020.9 231.0 L1020.0 232.1 L1021.2 232.5 L1020.6 233.5 L1021.5 234.1 L1021.1 235.0 L1021.7 235.6 L1021.4 236.5 L1022.0 237.1 L1021.7 238.0 L1022.3 238.7 L1022.0 239.5 L1022.6 240.2 L1022.2 241.0 L1023.0 241.6 L1022.6 242.5 L1023.3 243.1 L1022.9 244.1 L1023.8 244.6 L1023.3 245.5 L1024.1 246.1 L1023.5 247.3 L1024.2 247.2 L1024.9 247.3 L1024.2 246.1 L1025.2 245.6 L1024.6 244.6 L1025.7 244.1 L1025.0 242.9 L1025.7 243.0 L1026.5 242.9 L1025.7 244.0 L1026.4 244.7 L1025.9 245.5 L1026.8 246.2 L1026.2 247.0 L1027.0 247.7 L1026.5 248.5 L1027.2 249.2 L1026.7 250.0 L1027.5 250.7 L1026.8 251.6 L1027.5 252.3 L1027.0 253.1 L1027.7 253.9 L1027.1 254.7 L1027.8 255.5 L1027.1 256.3 L1027.9 257.0 L1027.1 257.9 L1027.9 258.6 L1027.2 259.5 L1028.1 260.2 L1027.3 261.0 L1028.1 261.8 L1027.4 262.6 L1028.2 263.4 L1027.4 264.2 L1028.3 264.9 L1027.4 265.8 L1028.2 265.5 L1028.9 266.0 L1027.7 265.0 L1028.8 264.4 L1027.9 263.5 L1029.1 262.9 L1028.1 262.0 L1029.2 261.4 L1028.4 260.4 L1029.6 259.9 L1028.7 259.0 L1029.8 258.4 L1028.8 257.4 L1030.0 256.9 L1029.0 255.9 L1030.6 255.5 L1029.4 254.3 L1031.0 253.9 L1029.7 252.8 L1031.3 252.4 L1030.2 251.4 L1031.4 250.9 L1030.7 249.9 L1031.7 249.3 L1031.0 248.4 L1032.0 247.8 L1031.3 246.9 L1032.2 246.3 L1031.5 245.4 L1032.6 244.8 L1031.9 243.9 L1032.9 243.3 L1032.1 242.4 L1033.3 241.8 L1032.3 240.9 L1033.4 240.3 L1032.6 239.4 L1033.8 238.8 L1033.0 237.9 L1034.1 237.3 L1033.3 236.4 L1034.9 236.0 L1032.9 234.5 L1035.6 235.0 L1033.6 233.0 L1036.2 234.0 L1034.2 231.8 L1037.1 233.0 L1035.1 230.5 L1037.7 232.4 L1037.3 229.0 L1037.1 232.2 L1039.3 230.6 L1037.7 233.1 L1040.0 231.7 L1039.0 234.0 L1041.2 232.0 L1039.6 234.4 L1042.2 233.3 L1039.9 235.2 L1042.7 234.8 L1040.5 236.4 L1043.2 236.2 L1041.5 237.4 L1042.8 237.9 L1041.9 238.7 L1042.9 239.4 L1042.1 240.2 L1043.1 240.9 L1042.2 241.8 L1043.2 242.4 L1042.4 243.3 L1043.3 243.9 L1042.5 244.8 L1043.0 244.6 L1043.9 244.9 L1042.9 243.9 L1043.6 243.3 L1043.2 242.4 L1043.9 241.8 L1043.3 240.9 L1044.2 240.3 L1043.4 239.4 L1044.9 238.9 L1043.1 237.5 L1045.6 238.1 L1044.8 237.2" fill="none" stroke="#15234f" stroke-width="3.2" stroke-linejoin="round" stroke-linecap="round"/>
<path d="M59.7 223.2H1041" stroke="#90c63a" stroke-width="2.8" stroke-linecap="round" stroke-dasharray="10.3 13.95" fill="none" clip-path="url(#plot)"/>
<path d="M59.7 255.8H1041" stroke="#234079" stroke-width="2.6" stroke-linecap="round" stroke-dasharray="10.3 13.95" fill="none" clip-path="url(#plot)"/>
<defs><clipPath id="plot"><rect x="59.2" y="60" width="986" height="460"/></clipPath></defs>
<text x="82.9" y="204.3" font-size="19" fill="#1ea03c" stroke="#1ea03c" stroke-width="0.25" textLength="112" lengthAdjust="spacingAndGlyphs" style="font-family:'Liberation Sans','Noto Sans CJK JP',sans-serif;">5年平均(緑)</text>
<text x="84.7" y="284.3" font-size="19" fill="#1973be" stroke="#1973be" stroke-width="0.25" textLength="121" lengthAdjust="spacingAndGlyphs" style="font-family:'Liberation Sans','Noto Sans CJK JP',sans-serif;">10年平均(青)</text>
<path d="M143.6 589.5H181.6" stroke="#15234f" stroke-width="2.6" stroke-linecap="round" fill="none"/>
<path d="M366.8 589.6H375M391 589.6H401" stroke="#90c63a" stroke-width="2.5" stroke-linecap="round" fill="none"/>
<path d="M668.5 589.6H678.2M692.6 589.6H703.2" stroke="#234079" stroke-width="2.4" stroke-linecap="round" fill="none"/>
<g fill="#1a1a1a" font-size="10.5">
<text id="lg1" x="186.5" y="592.7" textLength="138.8" lengthAdjust="spacingAndGlyphs">Forward 12-Month P/E</text>
<text id="lg2" x="410.4" y="592.7" textLength="215.2" lengthAdjust="spacingAndGlyphs">5-Year Avg. Forward 12-Month P/E</text>
<text id="lg3" x="712.5" y="592.7" textLength="224" lengthAdjust="spacingAndGlyphs">10-Year Avg. Forward 12-Month P/E</text>
</g>
</svg></body></html>
